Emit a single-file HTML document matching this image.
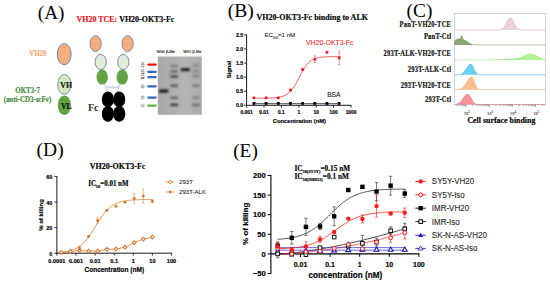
<!DOCTYPE html>
<html><head><meta charset="utf-8"><style>
html,body{margin:0;padding:0;background:#fff;}
body{width:550px;height:282px;overflow:hidden;}
svg{display:block;}
</style></head><body>
<svg width="550" height="282" viewBox="0 0 550 282">
<rect width="550" height="282" fill="#fff"/>
<text x="37.80" y="19.30" font-family='"Liberation Serif", serif' font-size="19.2" font-weight="normal" fill="#000" text-anchor="start" >(A)</text>
<text transform="translate(76.5,22.2) scale(1,1.06)" font-family='"Liberation Serif", serif' font-size="7.95" font-weight="bold" stroke="#000" stroke-width="0.16"><tspan fill="#e8141c" stroke="#e8141c" stroke-width="0.16">VH20 TCE: </tspan><tspan fill="#000" stroke="#000" stroke-width="0.16">VH20-OKT3-Fc</tspan></text>
<text transform="translate(29.20,55.70) scale(1,1.15)" font-family='"Liberation Serif", serif' font-size="6.9" font-weight="bold" fill="#f4a878" text-anchor="start"  stroke="#f4a878" stroke-width="0.16">VH20</text>
<text transform="translate(27.60,93.40) scale(1,1.13)" font-family='"Liberation Serif", serif' font-size="6.9" font-weight="bold" fill="#3f8a3a" text-anchor="middle"  stroke="#3f8a3a" stroke-width="0.16">OKT3-7</text>
<text transform="translate(27.60,101.90) scale(1,1.13)" font-family='"Liberation Serif", serif' font-size="6.9" font-weight="bold" fill="#3f8a3a" text-anchor="middle"  stroke="#3f8a3a" stroke-width="0.16">(anti-CD3-scFv)</text>
<ellipse cx="64.2" cy="54.2" rx="6.9" ry="10.6" fill="#f5ae7e" stroke="#6479ab" stroke-width="0.9"/>
<ellipse cx="64.4" cy="84.4" rx="6.6" ry="10" fill="#d2e8c4" stroke="#6479ab" stroke-width="0.8"/>
<ellipse cx="64.4" cy="105.2" rx="6.6" ry="9.8" fill="#62a443"/>
<text x="66.20" y="88.20" font-family='"Liberation Serif", serif' font-size="7.8" font-weight="bold" fill="#111" text-anchor="middle"  stroke="#111" stroke-width="0.16">VH</text>
<text x="66.40" y="109.30" font-family='"Liberation Serif", serif' font-size="7.8" font-weight="bold" fill="#111" text-anchor="middle"  stroke="#111" stroke-width="0.16">VL</text>
<ellipse cx="95.6" cy="43.6" rx="5.6" ry="7.9" fill="#f5ae7e" stroke="#6479ab" stroke-width="0.85"/>
<ellipse cx="127.6" cy="43.6" rx="5.6" ry="7.9" fill="#f5ae7e" stroke="#6479ab" stroke-width="0.85"/>
<line x1="95.6" y1="51.5" x2="100.7" y2="54.5" stroke="#a8b8d8" stroke-width="0.5"/>
<ellipse cx="100.7" cy="62.0" rx="5.6" ry="7.6" fill="#e0edd8" stroke="#6479ab" stroke-width="0.85"/>
<line x1="127.6" y1="51.5" x2="123.3" y2="54.5" stroke="#a8b8d8" stroke-width="0.5"/>
<ellipse cx="123.3" cy="62.0" rx="5.6" ry="7.6" fill="#e0edd8" stroke="#6479ab" stroke-width="0.85"/>
<ellipse cx="102.2" cy="77.1" rx="5.7" ry="7.5" fill="#62a443"/>
<ellipse cx="122.2" cy="77.1" rx="5.7" ry="7.5" fill="#62a443"/>
<path d="M104.2,83.4 L107.3,91.5 M120.2,83.4 L117.3,91.5" stroke="#8fa9d6" stroke-width="0.6" fill="none"/><rect x="105.6" y="86.3" width="13.2" height="2.2" fill="#cdd8ea"/>
<ellipse cx="107.9" cy="99.4" rx="6.1" ry="7.9" fill="#000"/>
<ellipse cx="107.9" cy="113.9" rx="6.1" ry="7.9" fill="#000"/>
<ellipse cx="119.2" cy="99.4" rx="6.1" ry="7.9" fill="#000"/>
<ellipse cx="119.2" cy="113.9" rx="6.1" ry="7.9" fill="#000"/>
<text x="87.90" y="111.40" font-family='"Liberation Serif", serif' font-size="10.2" font-weight="bold" fill="#333" text-anchor="start" stroke="#333" stroke-width="0">Fc</text>
<defs><linearGradient id="gel" x1="0" x2="1" y1="0" y2="0"><stop offset="0" stop-color="#a8a8a8"/><stop offset="0.6" stop-color="#b4b4b4"/><stop offset="1" stop-color="#acacac"/></linearGradient><filter id="bl" x="-50%" y="-100%" width="200%" height="300%"><feGaussianBlur stdDeviation="0.9"/></filter><filter id="bl2" x="-5%" y="-5%" width="110%" height="110%"><feGaussianBlur stdDeviation="0.3"/></filter></defs>
<rect x="157.8" y="56.5" width="44" height="58.3" fill="url(#gel)"/>
<text x="156.80" y="53.30" font-family='"Liberation Sans", sans-serif' font-size="4.0" font-weight="normal" fill="#1a1a1a" text-anchor="start" stroke-width="0.12" stroke="#1a1a1a">With β-Me</text>
<text x="183.20" y="53.30" font-family='"Liberation Sans", sans-serif' font-size="4.0" font-weight="normal" fill="#1a1a1a" text-anchor="start" stroke-width="0.12" stroke="#1a1a1a">W/O β-Me</text>
<rect x="147.2" y="63.50" width="9.6" height="2.2" rx="1.1" fill="#f01010"/>
<text transform="translate(143.6,64.60) rotate(-90) scale(0.85,1)" font-family='"Liberation Sans", sans-serif' font-size="4" fill="#666" stroke="#666" stroke-width="0.1" text-anchor="middle">240</text>
<line x1="144.4" y1="64.60" x2="145.6" y2="64.60" stroke="#999" stroke-width="0.4"/>
<rect x="147.2" y="70.70" width="9.6" height="2.2" rx="1.1" fill="#3565c8"/>
<text transform="translate(143.6,71.80) rotate(-90) scale(0.85,1)" font-family='"Liberation Sans", sans-serif' font-size="4" fill="#666" stroke="#666" stroke-width="0.1" text-anchor="middle">140</text>
<line x1="144.4" y1="71.80" x2="145.6" y2="71.80" stroke="#999" stroke-width="0.4"/>
<rect x="147.2" y="76.00" width="9.6" height="2.2" rx="1.1" fill="#3565c8"/>
<text transform="translate(143.6,77.10) rotate(-90) scale(0.85,1)" font-family='"Liberation Sans", sans-serif' font-size="4" fill="#666" stroke="#666" stroke-width="0.1" text-anchor="middle">115</text>
<line x1="144.4" y1="77.10" x2="145.6" y2="77.10" stroke="#999" stroke-width="0.4"/>
<rect x="147.2" y="85.20" width="9.6" height="2.2" rx="1.1" fill="#3565c8"/>
<text transform="translate(143.6,86.30) rotate(-90) scale(0.85,1)" font-family='"Liberation Sans", sans-serif' font-size="4" fill="#666" stroke="#666" stroke-width="0.1" text-anchor="middle">80</text>
<line x1="144.4" y1="86.30" x2="145.6" y2="86.30" stroke="#999" stroke-width="0.4"/>
<rect x="147.2" y="96.50" width="9.6" height="2.2" rx="1.1" fill="#3565c8"/>
<text transform="translate(143.6,97.60) rotate(-90) scale(0.85,1)" font-family='"Liberation Sans", sans-serif' font-size="4" fill="#666" stroke="#666" stroke-width="0.1" text-anchor="middle">58</text>
<line x1="144.4" y1="97.60" x2="145.6" y2="97.60" stroke="#999" stroke-width="0.4"/>
<rect x="147.2" y="104.50" width="9.6" height="2.2" rx="1.1" fill="#60b040"/>
<text transform="translate(143.6,105.60) rotate(-90) scale(0.85,1)" font-family='"Liberation Sans", sans-serif' font-size="4" fill="#666" stroke="#666" stroke-width="0.1" text-anchor="middle">50</text>
<line x1="144.4" y1="105.60" x2="145.6" y2="105.60" stroke="#999" stroke-width="0.4"/>
<g filter="url(#bl)">
<rect x="170.4" y="64.80" width="7.4" height="2.4" fill="#303030" opacity="0.4"/>
<rect x="170.4" y="70.40" width="7.4" height="2.4" fill="#303030" opacity="0.6"/>
<rect x="170.4" y="75.30" width="7.4" height="2.4" fill="#303030" opacity="0.9"/>
<rect x="170.4" y="84.50" width="7.4" height="2.4" fill="#303030" opacity="0.7"/>
<rect x="170.4" y="96.60" width="7.4" height="2.4" fill="#303030" opacity="0.6"/>
<rect x="170.4" y="103.70" width="7.4" height="2.4" fill="#303030" opacity="1.0"/>
<rect x="192.2" y="64.30" width="7.4" height="2.4" fill="#303030" opacity="0.3"/>
<rect x="192.2" y="69.80" width="7.4" height="2.4" fill="#303030" opacity="0.32"/>
<rect x="192.2" y="74.80" width="7.4" height="2.4" fill="#303030" opacity="0.35"/>
<rect x="192.2" y="84.50" width="7.4" height="2.4" fill="#303030" opacity="0.4"/>
<rect x="192.2" y="96.60" width="7.4" height="2.4" fill="#303030" opacity="0.32"/>
<rect x="192.2" y="103.70" width="7.4" height="2.4" fill="#303030" opacity="0.55"/>
<rect x="159.2" y="89.5" width="9" height="3.1" fill="#141414" opacity="1"/>
<rect x="180.8" y="68.1" width="8.9" height="3.1" fill="#141414" opacity="0.95"/>
</g>
<text x="227.80" y="16.70" font-family='"Liberation Serif", serif' font-size="19.5" font-weight="normal" fill="#000" text-anchor="start" >(B)</text>
<text x="256.60" y="19.80" font-family='"Liberation Serif", serif' font-size="8" font-weight="bold" fill="#000" text-anchor="start"  stroke="#000" stroke-width="0.16">VH20-OKT3-Fc binding to ALK</text>
<text x="264.4" y="36.8" font-family='"Liberation Sans", sans-serif' font-size="6.2" fill="#222" stroke="#222" stroke-width="0.08">EC<tspan font-size="4.4" dy="1.8">50</tspan><tspan dy="-1.8">=1 nM</tspan></text>
<line x1="246.6" y1="34.5" x2="246.6" y2="105.8" stroke="#000" stroke-width="0.9"/>
<line x1="246.2" y1="105.3" x2="351.4" y2="105.3" stroke="#000" stroke-width="0.9"/>
<line x1="244.0" y1="105.30" x2="246.6" y2="105.30" stroke="#000" stroke-width="0.8"/>
<text transform="translate(243.30,107.05) scale(1,0.88)" font-family='"Liberation Sans", sans-serif' font-size="5.3" font-weight="bold" fill="#000" text-anchor="end"  stroke="#000" stroke-width="0.16">0.0</text>
<line x1="244.0" y1="91.20" x2="246.6" y2="91.20" stroke="#000" stroke-width="0.8"/>
<text transform="translate(243.30,92.95) scale(1,0.88)" font-family='"Liberation Sans", sans-serif' font-size="5.3" font-weight="bold" fill="#000" text-anchor="end"  stroke="#000" stroke-width="0.16">0.5</text>
<line x1="244.0" y1="77.10" x2="246.6" y2="77.10" stroke="#000" stroke-width="0.8"/>
<text transform="translate(243.30,78.85) scale(1,0.88)" font-family='"Liberation Sans", sans-serif' font-size="5.3" font-weight="bold" fill="#000" text-anchor="end"  stroke="#000" stroke-width="0.16">1.0</text>
<line x1="244.0" y1="63.00" x2="246.6" y2="63.00" stroke="#000" stroke-width="0.8"/>
<text transform="translate(243.30,64.75) scale(1,0.88)" font-family='"Liberation Sans", sans-serif' font-size="5.3" font-weight="bold" fill="#000" text-anchor="end"  stroke="#000" stroke-width="0.16">1.5</text>
<line x1="244.0" y1="48.90" x2="246.6" y2="48.90" stroke="#000" stroke-width="0.8"/>
<text transform="translate(243.30,50.65) scale(1,0.88)" font-family='"Liberation Sans", sans-serif' font-size="5.3" font-weight="bold" fill="#000" text-anchor="end"  stroke="#000" stroke-width="0.16">2.0</text>
<line x1="244.0" y1="34.80" x2="246.6" y2="34.80" stroke="#000" stroke-width="0.8"/>
<text transform="translate(243.30,36.55) scale(1,0.88)" font-family='"Liberation Sans", sans-serif' font-size="5.3" font-weight="bold" fill="#000" text-anchor="end"  stroke="#000" stroke-width="0.16">2.5</text>
<line x1="246.60" y1="105.3" x2="246.60" y2="107.7" stroke="#000" stroke-width="0.8"/>
<text x="246.60" y="113.60" font-family='"Liberation Sans", sans-serif' font-size="4.8" font-weight="bold" fill="#000" text-anchor="middle"  stroke="#000" stroke-width="0.16">0.001</text>
<line x1="264.00" y1="105.3" x2="264.00" y2="107.7" stroke="#000" stroke-width="0.8"/>
<text x="264.00" y="113.60" font-family='"Liberation Sans", sans-serif' font-size="4.8" font-weight="bold" fill="#000" text-anchor="middle"  stroke="#000" stroke-width="0.16">0.01</text>
<line x1="281.40" y1="105.3" x2="281.40" y2="107.7" stroke="#000" stroke-width="0.8"/>
<text x="281.40" y="113.60" font-family='"Liberation Sans", sans-serif' font-size="4.8" font-weight="bold" fill="#000" text-anchor="middle"  stroke="#000" stroke-width="0.16">0.1</text>
<line x1="298.80" y1="105.3" x2="298.80" y2="107.7" stroke="#000" stroke-width="0.8"/>
<text x="298.80" y="113.60" font-family='"Liberation Sans", sans-serif' font-size="4.8" font-weight="bold" fill="#000" text-anchor="middle"  stroke="#000" stroke-width="0.16">1</text>
<line x1="316.20" y1="105.3" x2="316.20" y2="107.7" stroke="#000" stroke-width="0.8"/>
<text x="316.20" y="113.60" font-family='"Liberation Sans", sans-serif' font-size="4.8" font-weight="bold" fill="#000" text-anchor="middle"  stroke="#000" stroke-width="0.16">10</text>
<line x1="333.60" y1="105.3" x2="333.60" y2="107.7" stroke="#000" stroke-width="0.8"/>
<text x="333.60" y="113.60" font-family='"Liberation Sans", sans-serif' font-size="4.8" font-weight="bold" fill="#000" text-anchor="middle"  stroke="#000" stroke-width="0.16">100</text>
<line x1="351.00" y1="105.3" x2="351.00" y2="107.7" stroke="#000" stroke-width="0.8"/>
<text x="351.00" y="113.60" font-family='"Liberation Sans", sans-serif' font-size="4.8" font-weight="bold" fill="#000" text-anchor="middle"  stroke="#000" stroke-width="0.16">1000</text>
<text x="299.40" y="122.60" font-family='"Liberation Sans", sans-serif' font-size="5.8" font-weight="bold" fill="#000" text-anchor="middle"  stroke="#000" stroke-width="0.16">Concentration (nM)</text>
<text transform="translate(231.4,69.6) rotate(-90)" font-family='"Liberation Sans", sans-serif' font-size="5.8" font-weight="bold" text-anchor="middle" stroke="#000" stroke-width="0.16">Signal</text>
<polyline points="252.69,98.24 253.42,98.24 254.15,98.24 254.89,98.24 255.62,98.24 256.35,98.24 257.08,98.23 257.82,98.23 258.55,98.23 259.28,98.22 260.01,98.22 260.74,98.22 261.48,98.21 262.21,98.21 262.94,98.20 263.67,98.19 264.41,98.18 265.14,98.17 265.87,98.16 266.60,98.15 267.33,98.14 268.07,98.12 268.80,98.10 269.53,98.08 270.26,98.05 271.00,98.03 271.73,97.99 272.46,97.96 273.19,97.91 273.93,97.87 274.66,97.81 275.39,97.75 276.12,97.67 276.85,97.59 277.59,97.50 278.32,97.39 279.05,97.27 279.78,97.13 280.52,96.97 281.25,96.79 281.98,96.59 282.71,96.36 283.44,96.10 284.18,95.81 284.91,95.47 285.64,95.10 286.37,94.68 287.11,94.22 287.84,93.69 288.57,93.11 289.30,92.47 290.03,91.76 290.77,90.98 291.50,90.13 292.23,89.21 292.96,88.21 293.70,87.14 294.43,86.00 295.16,84.79 295.89,83.53 296.62,82.21 297.36,80.85 298.09,79.46 298.82,78.05 299.55,76.64 300.29,75.23 301.02,73.84 301.75,72.48 302.48,71.17 303.22,69.91 303.95,68.70 304.68,67.57 305.41,66.50 306.14,65.51 306.88,64.59 307.61,63.74 308.34,62.96 309.07,62.26 309.81,61.62 310.54,61.04 311.27,60.52 312.00,60.06 312.73,59.64 313.47,59.27 314.20,58.94 314.93,58.65 315.66,58.39 316.40,58.16 317.13,57.96 317.86,57.78 318.59,57.63 319.32,57.49 320.06,57.37 320.79,57.26 321.52,57.17 322.25,57.09 322.99,57.01 323.72,56.95 324.45,56.90 325.18,56.85 325.91,56.81 326.65,56.77 327.38,56.74 328.11,56.71 328.84,56.68 329.58,56.66 330.31,56.64 331.04,56.63 331.77,56.61 332.51,56.60 333.24,56.59 333.97,56.58 334.70,56.57 335.43,56.56 336.17,56.56 336.90,56.55 337.63,56.55 338.36,56.54 339.10,56.54 339.83,56.54 340.56,56.53" fill="none" stroke="#ee2a2a" stroke-width="0.8"/>
<circle cx="253.91" cy="97.69" r="1.5" fill="#ee1c24"/>
<circle cx="266.09" cy="97.69" r="1.5" fill="#ee1c24"/>
<circle cx="278.27" cy="97.69" r="1.5" fill="#ee1c24"/>
<path d="M290.448,90.91799999999999 V89.226 M289.14799999999997,90.91799999999999 h2.6 M289.14799999999997,89.226 h2.6" stroke="#ee2a2a" stroke-width="0.5" fill="none"/>
<circle cx="290.45" cy="90.07" r="1.5" fill="#ee1c24"/>
<path d="M302.628,70.332 V68.63999999999999 M301.328,70.332 h2.6 M301.328,68.63999999999999 h2.6" stroke="#ee2a2a" stroke-width="0.5" fill="none"/>
<circle cx="302.63" cy="69.49" r="1.5" fill="#ee1c24"/>
<path d="M314.808,62.718 V55.949999999999996 M313.508,62.718 h2.6 M313.508,55.949999999999996 h2.6" stroke="#ee2a2a" stroke-width="0.5" fill="none"/>
<circle cx="314.81" cy="59.33" r="1.5" fill="#ee1c24"/>
<circle cx="326.99" cy="52.28" r="1.5" fill="#ee1c24"/>
<path d="M339.168,64.69200000000001 V51.156 M337.868,64.69200000000001 h2.6 M337.868,51.156 h2.6" stroke="#ee2a2a" stroke-width="0.5" fill="none"/>
<circle cx="339.17" cy="57.92" r="1.5" fill="#ee1c24"/>
<line x1="252.908" y1="103.7" x2="340.168" y2="103.7" stroke="#000" stroke-width="0.7"/>
<rect x="252.51" y="102.00" width="2.8" height="2.8" fill="#000"/>
<rect x="264.69" y="102.00" width="2.8" height="2.8" fill="#000"/>
<rect x="276.87" y="102.00" width="2.8" height="2.8" fill="#000"/>
<rect x="289.05" y="102.00" width="2.8" height="2.8" fill="#000"/>
<rect x="301.23" y="102.00" width="2.8" height="2.8" fill="#000"/>
<rect x="313.41" y="102.00" width="2.8" height="2.8" fill="#000"/>
<rect x="325.59" y="102.00" width="2.8" height="2.8" fill="#000"/>
<rect x="337.77" y="102.00" width="2.8" height="2.8" fill="#000"/>
<text x="306.00" y="45.20" font-family='"Liberation Sans", sans-serif' font-size="6.9" font-weight="normal" fill="#ee1c24" text-anchor="start"  stroke="#ee1c24" stroke-width="0.08">VH20-OKT3-Fc</text>
<text x="327.20" y="97.00" font-family='"Liberation Sans", sans-serif' font-size="6.6" font-weight="normal" fill="#111" text-anchor="start"  stroke="#111" stroke-width="0.08">BSA</text>
<text x="406.60" y="16.90" font-family='"Liberation Serif", serif' font-size="19.3" font-weight="normal" fill="#000" text-anchor="start" >(C)</text>
<text transform="translate(451.20,26.90) scale(1,1.15)" font-family='"Liberation Serif", serif' font-size="6.5" font-weight="bold" fill="#111" text-anchor="end" letter-spacing="0.24" stroke="#111" stroke-width="0.16">PanT-VH20-TCE</text>
<text transform="translate(451.20,38.80) scale(1,1.15)" font-family='"Liberation Serif", serif' font-size="6.5" font-weight="bold" fill="#111" text-anchor="end" letter-spacing="0.24" stroke="#111" stroke-width="0.16">PanT-Ctl</text>
<text transform="translate(451.20,55.70) scale(1,1.15)" font-family='"Liberation Serif", serif' font-size="6.5" font-weight="bold" fill="#111" text-anchor="end" letter-spacing="0.24" stroke="#111" stroke-width="0.16">293T-ALK-VH20-TCE</text>
<text transform="translate(451.20,71.50) scale(1,1.15)" font-family='"Liberation Serif", serif' font-size="6.5" font-weight="bold" fill="#111" text-anchor="end" letter-spacing="0.24" stroke="#111" stroke-width="0.16">293T-ALK-Ctl</text>
<text transform="translate(451.20,87.60) scale(1,1.15)" font-family='"Liberation Serif", serif' font-size="6.5" font-weight="bold" fill="#111" text-anchor="end" letter-spacing="0.24" stroke="#111" stroke-width="0.16">293T-VH20-TCE</text>
<text transform="translate(451.20,101.80) scale(1,1.15)" font-family='"Liberation Serif", serif' font-size="6.5" font-weight="bold" fill="#111" text-anchor="end" letter-spacing="0.24" stroke="#111" stroke-width="0.16">293T-Ctl</text>
<rect x="454.3" y="13.5" width="91.40000000000003" height="91.1" fill="none" stroke="#b8b8b8" stroke-width="0.6"/>
<path d="M454.30,30.10 L454.81,30.10 L455.32,30.10 L455.82,30.10 L456.33,30.10 L456.84,30.10 L457.35,30.10 L457.85,30.10 L458.36,30.10 L458.87,30.10 L459.38,30.10 L459.89,30.10 L460.39,30.10 L460.90,30.10 L461.41,30.10 L461.92,30.10 L462.42,30.10 L462.93,30.10 L463.44,30.10 L463.95,30.10 L464.46,30.10 L464.96,30.10 L465.47,30.10 L465.98,30.10 L466.49,30.10 L466.99,30.10 L467.50,30.10 L468.01,30.10 L468.52,30.10 L469.03,30.10 L469.53,30.10 L470.04,30.10 L470.55,30.10 L471.06,30.10 L471.56,30.10 L472.07,30.10 L472.58,30.10 L473.09,30.10 L473.60,30.10 L474.10,30.10 L474.61,30.10 L475.12,30.10 L475.63,30.10 L476.13,30.10 L476.64,30.10 L477.15,30.10 L477.66,30.10 L478.17,30.10 L478.67,30.10 L479.18,30.10 L479.69,30.10 L480.20,30.10 L480.70,30.10 L481.21,30.10 L481.72,30.10 L482.23,30.10 L482.74,30.10 L483.24,30.10 L483.75,30.10 L484.26,30.10 L484.77,30.10 L485.27,30.10 L485.78,30.10 L486.29,30.10 L486.80,30.10 L487.31,30.10 L487.81,30.10 L488.32,30.10 L488.83,30.10 L489.34,30.10 L489.84,30.10 L490.35,30.10 L490.86,30.10 L491.37,30.10 L491.88,30.10 L492.38,30.10 L492.89,30.10 L493.40,30.10 L493.91,30.10 L494.41,30.10 L494.92,30.10 L495.43,30.10 L495.94,30.10 L496.45,30.09 L496.95,30.09 L497.46,30.08 L497.97,30.06 L498.48,30.04 L498.98,30.01 L499.49,29.96 L500.00,29.88 L500.51,29.78 L501.02,29.64 L501.52,29.44 L502.03,29.19 L502.54,28.85 L503.05,28.43 L503.55,27.92 L504.06,27.29 L504.57,26.57 L505.08,25.74 L505.59,24.82 L506.09,23.84 L506.60,22.82 L507.11,21.80 L507.62,20.82 L508.12,19.94 L508.63,19.19 L509.14,18.61 L509.65,18.24 L510.16,18.10 L510.66,18.20 L511.17,18.53 L511.68,19.07 L512.19,19.79 L512.69,20.66 L513.20,21.62 L513.71,22.64 L514.22,23.66 L514.73,24.65 L515.23,25.58 L515.74,26.43 L516.25,27.18 L516.76,27.82 L517.26,28.35 L517.77,28.79 L518.28,29.13 L518.79,29.40 L519.30,29.61 L519.80,29.76 L520.31,29.87 L520.82,29.95 L521.33,30.00 L521.83,30.04 L522.34,30.06 L522.85,30.07 L523.36,30.08 L523.87,30.09 L524.37,30.09 L524.88,30.10 L525.39,30.10 L525.90,30.10 L526.40,30.10 L526.91,30.10 L527.42,30.10 L527.93,30.10 L528.44,30.10 L528.94,30.10 L529.45,30.10 L529.96,30.10 L530.47,30.10 L530.97,30.10 L531.48,30.10 L531.99,30.10 L532.50,30.10 L533.01,30.10 L533.51,30.10 L534.02,30.10 L534.53,30.10 L535.04,30.10 L535.54,30.10 L536.05,30.10 L536.56,30.10 L537.07,30.10 L537.58,30.10 L538.08,30.10 L538.59,30.10 L539.10,30.10 L539.61,30.10 L540.11,30.10 L540.62,30.10 L541.13,30.10 L541.64,30.10 L542.15,30.10 L542.65,30.10 L543.16,30.10 L543.67,30.10 L544.18,30.10 L544.68,30.10 L545.19,30.10 L545.70,30.10 L545.7,30.1 L454.3,30.1 Z" fill="#e3b6ba" fill-opacity="0.6" stroke="none"/>
<path d="M454.30,30.10 L454.81,30.10 L455.32,30.10 L455.82,30.10 L456.33,30.10 L456.84,30.10 L457.35,30.10 L457.85,30.10 L458.36,30.10 L458.87,30.10 L459.38,30.10 L459.89,30.10 L460.39,30.10 L460.90,30.10 L461.41,30.10 L461.92,30.10 L462.42,30.10 L462.93,30.10 L463.44,30.10 L463.95,30.10 L464.46,30.10 L464.96,30.10 L465.47,30.10 L465.98,30.10 L466.49,30.10 L466.99,30.10 L467.50,30.10 L468.01,30.10 L468.52,30.10 L469.03,30.10 L469.53,30.10 L470.04,30.10 L470.55,30.10 L471.06,30.10 L471.56,30.10 L472.07,30.10 L472.58,30.10 L473.09,30.10 L473.60,30.10 L474.10,30.10 L474.61,30.10 L475.12,30.10 L475.63,30.10 L476.13,30.10 L476.64,30.10 L477.15,30.10 L477.66,30.10 L478.17,30.10 L478.67,30.10 L479.18,30.10 L479.69,30.10 L480.20,30.10 L480.70,30.10 L481.21,30.10 L481.72,30.10 L482.23,30.10 L482.74,30.10 L483.24,30.10 L483.75,30.10 L484.26,30.10 L484.77,30.10 L485.27,30.10 L485.78,30.10 L486.29,30.10 L486.80,30.10 L487.31,30.10 L487.81,30.10 L488.32,30.10 L488.83,30.10 L489.34,30.10 L489.84,30.10 L490.35,30.10 L490.86,30.10 L491.37,30.10 L491.88,30.10 L492.38,30.10 L492.89,30.10 L493.40,30.10 L493.91,30.10 L494.41,30.10 L494.92,30.10 L495.43,30.10 L495.94,30.10 L496.45,30.09 L496.95,30.09 L497.46,30.08 L497.97,30.06 L498.48,30.04 L498.98,30.01 L499.49,29.96 L500.00,29.88 L500.51,29.78 L501.02,29.64 L501.52,29.44 L502.03,29.19 L502.54,28.85 L503.05,28.43 L503.55,27.92 L504.06,27.29 L504.57,26.57 L505.08,25.74 L505.59,24.82 L506.09,23.84 L506.60,22.82 L507.11,21.80 L507.62,20.82 L508.12,19.94 L508.63,19.19 L509.14,18.61 L509.65,18.24 L510.16,18.10 L510.66,18.20 L511.17,18.53 L511.68,19.07 L512.19,19.79 L512.69,20.66 L513.20,21.62 L513.71,22.64 L514.22,23.66 L514.73,24.65 L515.23,25.58 L515.74,26.43 L516.25,27.18 L516.76,27.82 L517.26,28.35 L517.77,28.79 L518.28,29.13 L518.79,29.40 L519.30,29.61 L519.80,29.76 L520.31,29.87 L520.82,29.95 L521.33,30.00 L521.83,30.04 L522.34,30.06 L522.85,30.07 L523.36,30.08 L523.87,30.09 L524.37,30.09 L524.88,30.10 L525.39,30.10 L525.90,30.10 L526.40,30.10 L526.91,30.10 L527.42,30.10 L527.93,30.10 L528.44,30.10 L528.94,30.10 L529.45,30.10 L529.96,30.10 L530.47,30.10 L530.97,30.10 L531.48,30.10 L531.99,30.10 L532.50,30.10 L533.01,30.10 L533.51,30.10 L534.02,30.10 L534.53,30.10 L535.04,30.10 L535.54,30.10 L536.05,30.10 L536.56,30.10 L537.07,30.10 L537.58,30.10 L538.08,30.10 L538.59,30.10 L539.10,30.10 L539.61,30.10 L540.11,30.10 L540.62,30.10 L541.13,30.10 L541.64,30.10 L542.15,30.10 L542.65,30.10 L543.16,30.10 L543.67,30.10 L544.18,30.10 L544.68,30.10 L545.19,30.10 L545.70,30.10" fill="none" stroke="#d8a0a8" stroke-width="0.6"/>
<path d="M454.30,41.35 L454.81,40.89 L455.32,40.46 L455.82,40.07 L456.33,39.73 L456.84,39.45 L457.35,39.24 L457.85,39.09 L458.36,39.00 L458.87,38.96 L459.38,38.97 L459.89,38.97 L460.39,38.72 L460.90,37.59 L461.41,35.87 L461.92,35.78 L462.42,37.62 L462.93,39.11 L463.44,39.66 L463.95,39.87 L464.46,40.06 L464.96,40.28 L465.47,40.53 L465.98,40.81 L466.49,41.11 L466.99,41.43 L467.50,41.77 L468.01,42.12 L468.52,42.46 L469.03,42.79 L469.53,43.10 L470.04,43.40 L470.55,43.66 L471.06,43.90 L471.56,44.11 L472.07,44.29 L472.58,44.44 L473.09,44.57 L473.60,44.67 L474.10,44.75 L474.61,44.81 L475.12,44.86 L475.63,44.90 L476.13,44.93 L476.64,44.95 L477.15,44.97 L477.66,44.98 L478.17,44.98 L478.67,44.99 L479.18,44.99 L479.69,45.00 L480.20,45.00 L480.70,45.00 L481.21,45.00 L481.72,45.00 L482.23,45.00 L482.74,45.00 L483.24,45.00 L483.75,45.00 L484.26,45.00 L484.77,45.00 L485.27,45.00 L485.78,45.00 L486.29,45.00 L486.80,45.00 L487.31,45.00 L487.81,45.00 L488.32,45.00 L488.83,45.00 L489.34,45.00 L489.84,45.00 L490.35,45.00 L490.86,45.00 L491.37,45.00 L491.88,45.00 L492.38,45.00 L492.89,45.00 L493.40,45.00 L493.91,45.00 L494.41,45.00 L494.92,45.00 L495.43,45.00 L495.94,45.00 L496.45,45.00 L496.95,45.00 L497.46,45.00 L497.97,45.00 L498.48,45.00 L498.98,45.00 L499.49,45.00 L500.00,45.00 L500.51,45.00 L501.02,45.00 L501.52,45.00 L502.03,45.00 L502.54,45.00 L503.05,45.00 L503.55,45.00 L504.06,45.00 L504.57,45.00 L505.08,45.00 L505.59,45.00 L506.09,45.00 L506.60,45.00 L507.11,45.00 L507.62,45.00 L508.12,45.00 L508.63,45.00 L509.14,45.00 L509.65,45.00 L510.16,45.00 L510.66,45.00 L511.17,45.00 L511.68,45.00 L512.19,45.00 L512.69,45.00 L513.20,45.00 L513.71,45.00 L514.22,45.00 L514.73,45.00 L515.23,45.00 L515.74,45.00 L516.25,45.00 L516.76,45.00 L517.26,45.00 L517.77,45.00 L518.28,45.00 L518.79,45.00 L519.30,45.00 L519.80,45.00 L520.31,45.00 L520.82,45.00 L521.33,45.00 L521.83,45.00 L522.34,45.00 L522.85,45.00 L523.36,45.00 L523.87,45.00 L524.37,45.00 L524.88,45.00 L525.39,45.00 L525.90,45.00 L526.40,45.00 L526.91,45.00 L527.42,45.00 L527.93,45.00 L528.44,45.00 L528.94,45.00 L529.45,45.00 L529.96,45.00 L530.47,45.00 L530.97,45.00 L531.48,45.00 L531.99,45.00 L532.50,45.00 L533.01,45.00 L533.51,45.00 L534.02,45.00 L534.53,45.00 L535.04,45.00 L535.54,45.00 L536.05,45.00 L536.56,45.00 L537.07,45.00 L537.58,45.00 L538.08,45.00 L538.59,45.00 L539.10,45.00 L539.61,45.00 L540.11,45.00 L540.62,45.00 L541.13,45.00 L541.64,45.00 L542.15,45.00 L542.65,45.00 L543.16,45.00 L543.67,45.00 L544.18,45.00 L544.68,45.00 L545.19,45.00 L545.70,45.00 L545.7,45.0 L454.3,45.0 Z" fill="#7d9b5f" fill-opacity="0.9" stroke="none"/>
<path d="M454.30,41.35 L454.81,40.89 L455.32,40.46 L455.82,40.07 L456.33,39.73 L456.84,39.45 L457.35,39.24 L457.85,39.09 L458.36,39.00 L458.87,38.96 L459.38,38.97 L459.89,38.97 L460.39,38.72 L460.90,37.59 L461.41,35.87 L461.92,35.78 L462.42,37.62 L462.93,39.11 L463.44,39.66 L463.95,39.87 L464.46,40.06 L464.96,40.28 L465.47,40.53 L465.98,40.81 L466.49,41.11 L466.99,41.43 L467.50,41.77 L468.01,42.12 L468.52,42.46 L469.03,42.79 L469.53,43.10 L470.04,43.40 L470.55,43.66 L471.06,43.90 L471.56,44.11 L472.07,44.29 L472.58,44.44 L473.09,44.57 L473.60,44.67 L474.10,44.75 L474.61,44.81 L475.12,44.86 L475.63,44.90 L476.13,44.93 L476.64,44.95 L477.15,44.97 L477.66,44.98 L478.17,44.98 L478.67,44.99 L479.18,44.99 L479.69,45.00 L480.20,45.00 L480.70,45.00 L481.21,45.00 L481.72,45.00 L482.23,45.00 L482.74,45.00 L483.24,45.00 L483.75,45.00 L484.26,45.00 L484.77,45.00 L485.27,45.00 L485.78,45.00 L486.29,45.00 L486.80,45.00 L487.31,45.00 L487.81,45.00 L488.32,45.00 L488.83,45.00 L489.34,45.00 L489.84,45.00 L490.35,45.00 L490.86,45.00 L491.37,45.00 L491.88,45.00 L492.38,45.00 L492.89,45.00 L493.40,45.00 L493.91,45.00 L494.41,45.00 L494.92,45.00 L495.43,45.00 L495.94,45.00 L496.45,45.00 L496.95,45.00 L497.46,45.00 L497.97,45.00 L498.48,45.00 L498.98,45.00 L499.49,45.00 L500.00,45.00 L500.51,45.00 L501.02,45.00 L501.52,45.00 L502.03,45.00 L502.54,45.00 L503.05,45.00 L503.55,45.00 L504.06,45.00 L504.57,45.00 L505.08,45.00 L505.59,45.00 L506.09,45.00 L506.60,45.00 L507.11,45.00 L507.62,45.00 L508.12,45.00 L508.63,45.00 L509.14,45.00 L509.65,45.00 L510.16,45.00 L510.66,45.00 L511.17,45.00 L511.68,45.00 L512.19,45.00 L512.69,45.00 L513.20,45.00 L513.71,45.00 L514.22,45.00 L514.73,45.00 L515.23,45.00 L515.74,45.00 L516.25,45.00 L516.76,45.00 L517.26,45.00 L517.77,45.00 L518.28,45.00 L518.79,45.00 L519.30,45.00 L519.80,45.00 L520.31,45.00 L520.82,45.00 L521.33,45.00 L521.83,45.00 L522.34,45.00 L522.85,45.00 L523.36,45.00 L523.87,45.00 L524.37,45.00 L524.88,45.00 L525.39,45.00 L525.90,45.00 L526.40,45.00 L526.91,45.00 L527.42,45.00 L527.93,45.00 L528.44,45.00 L528.94,45.00 L529.45,45.00 L529.96,45.00 L530.47,45.00 L530.97,45.00 L531.48,45.00 L531.99,45.00 L532.50,45.00 L533.01,45.00 L533.51,45.00 L534.02,45.00 L534.53,45.00 L535.04,45.00 L535.54,45.00 L536.05,45.00 L536.56,45.00 L537.07,45.00 L537.58,45.00 L538.08,45.00 L538.59,45.00 L539.10,45.00 L539.61,45.00 L540.11,45.00 L540.62,45.00 L541.13,45.00 L541.64,45.00 L542.15,45.00 L542.65,45.00 L543.16,45.00 L543.67,45.00 L544.18,45.00 L544.68,45.00 L545.19,45.00 L545.70,45.00" fill="none" stroke="#7a9863" stroke-width="0.6"/>
<path d="M454.30,59.90 L454.81,59.90 L455.32,59.90 L455.82,59.90 L456.33,59.90 L456.84,59.90 L457.35,59.90 L457.85,59.90 L458.36,59.90 L458.87,59.90 L459.38,59.90 L459.89,59.90 L460.39,59.90 L460.90,59.90 L461.41,59.90 L461.92,59.90 L462.42,59.90 L462.93,59.90 L463.44,59.90 L463.95,59.90 L464.46,59.90 L464.96,59.90 L465.47,59.90 L465.98,59.90 L466.49,59.90 L466.99,59.90 L467.50,59.90 L468.01,59.90 L468.52,59.90 L469.03,59.90 L469.53,59.90 L470.04,59.90 L470.55,59.90 L471.06,59.90 L471.56,59.90 L472.07,59.90 L472.58,59.90 L473.09,59.90 L473.60,59.90 L474.10,59.90 L474.61,59.90 L475.12,59.90 L475.63,59.90 L476.13,59.90 L476.64,59.90 L477.15,59.90 L477.66,59.90 L478.17,59.90 L478.67,59.90 L479.18,59.90 L479.69,59.90 L480.20,59.90 L480.70,59.90 L481.21,59.90 L481.72,59.90 L482.23,59.90 L482.74,59.89 L483.24,59.89 L483.75,59.89 L484.26,59.89 L484.77,59.89 L485.27,59.89 L485.78,59.89 L486.29,59.88 L486.80,59.88 L487.31,59.88 L487.81,59.88 L488.32,59.87 L488.83,59.87 L489.34,59.86 L489.84,59.86 L490.35,59.85 L490.86,59.85 L491.37,59.84 L491.88,59.83 L492.38,59.82 L492.89,59.81 L493.40,59.80 L493.91,59.79 L494.41,59.78 L494.92,59.77 L495.43,59.75 L495.94,59.74 L496.45,59.72 L496.95,59.70 L497.46,59.69 L497.97,59.67 L498.48,59.64 L498.98,59.62 L499.49,59.60 L500.00,59.58 L500.51,59.55 L501.02,59.52 L501.52,59.50 L502.03,59.47 L502.54,59.44 L503.05,59.41 L503.55,59.38 L504.06,59.35 L504.57,59.32 L505.08,59.29 L505.59,59.26 L506.09,59.22 L506.60,59.19 L507.11,59.16 L507.62,59.13 L508.12,59.10 L508.63,59.07 L509.14,59.04 L509.65,59.01 L510.16,58.98 L510.66,58.95 L511.17,58.92 L511.68,58.89 L512.19,58.86 L512.69,58.82 L513.20,58.79 L513.71,58.75 L514.22,58.71 L514.73,58.66 L515.23,58.61 L515.74,58.55 L516.25,58.49 L516.76,58.42 L517.26,58.34 L517.77,58.24 L518.28,58.14 L518.79,58.03 L519.30,57.90 L519.80,57.76 L520.31,57.61 L520.82,57.44 L521.33,57.26 L521.83,57.07 L522.34,56.87 L522.85,56.66 L523.36,56.44 L523.87,56.21 L524.37,55.98 L524.88,55.75 L525.39,55.53 L525.90,55.31 L526.40,55.09 L526.91,54.89 L527.42,54.71 L527.93,54.55 L528.44,54.41 L528.94,54.29 L529.45,54.20 L529.96,54.14 L530.47,54.12 L530.97,54.12 L531.48,54.16 L531.99,54.23 L532.50,54.33 L533.01,54.46 L533.51,54.62 L534.02,54.80 L534.53,55.01 L535.04,55.23 L535.54,55.47 L536.05,55.72 L536.56,55.99 L537.07,56.25 L537.58,56.52 L538.08,56.79 L538.59,57.06 L539.10,57.31 L539.61,57.56 L540.11,57.80 L540.62,58.02 L541.13,58.23 L541.64,58.43 L542.15,58.61 L542.65,58.78 L543.16,58.93 L543.67,59.06 L544.18,59.18 L544.68,59.29 L545.19,59.38 L545.70,59.46 L545.7,59.9 L454.3,59.9 Z" fill="#9cf07c" fill-opacity="0.8" stroke="none"/>
<path d="M454.30,59.90 L454.81,59.90 L455.32,59.90 L455.82,59.90 L456.33,59.90 L456.84,59.90 L457.35,59.90 L457.85,59.90 L458.36,59.90 L458.87,59.90 L459.38,59.90 L459.89,59.90 L460.39,59.90 L460.90,59.90 L461.41,59.90 L461.92,59.90 L462.42,59.90 L462.93,59.90 L463.44,59.90 L463.95,59.90 L464.46,59.90 L464.96,59.90 L465.47,59.90 L465.98,59.90 L466.49,59.90 L466.99,59.90 L467.50,59.90 L468.01,59.90 L468.52,59.90 L469.03,59.90 L469.53,59.90 L470.04,59.90 L470.55,59.90 L471.06,59.90 L471.56,59.90 L472.07,59.90 L472.58,59.90 L473.09,59.90 L473.60,59.90 L474.10,59.90 L474.61,59.90 L475.12,59.90 L475.63,59.90 L476.13,59.90 L476.64,59.90 L477.15,59.90 L477.66,59.90 L478.17,59.90 L478.67,59.90 L479.18,59.90 L479.69,59.90 L480.20,59.90 L480.70,59.90 L481.21,59.90 L481.72,59.90 L482.23,59.90 L482.74,59.89 L483.24,59.89 L483.75,59.89 L484.26,59.89 L484.77,59.89 L485.27,59.89 L485.78,59.89 L486.29,59.88 L486.80,59.88 L487.31,59.88 L487.81,59.88 L488.32,59.87 L488.83,59.87 L489.34,59.86 L489.84,59.86 L490.35,59.85 L490.86,59.85 L491.37,59.84 L491.88,59.83 L492.38,59.82 L492.89,59.81 L493.40,59.80 L493.91,59.79 L494.41,59.78 L494.92,59.77 L495.43,59.75 L495.94,59.74 L496.45,59.72 L496.95,59.70 L497.46,59.69 L497.97,59.67 L498.48,59.64 L498.98,59.62 L499.49,59.60 L500.00,59.58 L500.51,59.55 L501.02,59.52 L501.52,59.50 L502.03,59.47 L502.54,59.44 L503.05,59.41 L503.55,59.38 L504.06,59.35 L504.57,59.32 L505.08,59.29 L505.59,59.26 L506.09,59.22 L506.60,59.19 L507.11,59.16 L507.62,59.13 L508.12,59.10 L508.63,59.07 L509.14,59.04 L509.65,59.01 L510.16,58.98 L510.66,58.95 L511.17,58.92 L511.68,58.89 L512.19,58.86 L512.69,58.82 L513.20,58.79 L513.71,58.75 L514.22,58.71 L514.73,58.66 L515.23,58.61 L515.74,58.55 L516.25,58.49 L516.76,58.42 L517.26,58.34 L517.77,58.24 L518.28,58.14 L518.79,58.03 L519.30,57.90 L519.80,57.76 L520.31,57.61 L520.82,57.44 L521.33,57.26 L521.83,57.07 L522.34,56.87 L522.85,56.66 L523.36,56.44 L523.87,56.21 L524.37,55.98 L524.88,55.75 L525.39,55.53 L525.90,55.31 L526.40,55.09 L526.91,54.89 L527.42,54.71 L527.93,54.55 L528.44,54.41 L528.94,54.29 L529.45,54.20 L529.96,54.14 L530.47,54.12 L530.97,54.12 L531.48,54.16 L531.99,54.23 L532.50,54.33 L533.01,54.46 L533.51,54.62 L534.02,54.80 L534.53,55.01 L535.04,55.23 L535.54,55.47 L536.05,55.72 L536.56,55.99 L537.07,56.25 L537.58,56.52 L538.08,56.79 L538.59,57.06 L539.10,57.31 L539.61,57.56 L540.11,57.80 L540.62,58.02 L541.13,58.23 L541.64,58.43 L542.15,58.61 L542.65,58.78 L543.16,58.93 L543.67,59.06 L544.18,59.18 L544.68,59.29 L545.19,59.38 L545.70,59.46" fill="none" stroke="#8de86a" stroke-width="0.6"/>
<path d="M454.30,74.80 L454.81,74.79 L455.32,74.79 L455.82,74.78 L456.33,74.77 L456.84,74.76 L457.35,74.74 L457.85,74.71 L458.36,74.67 L458.87,74.61 L459.38,74.53 L459.89,74.43 L460.39,74.30 L460.90,74.13 L461.41,73.92 L461.92,73.66 L462.42,73.33 L462.93,72.95 L463.44,72.50 L463.95,71.97 L464.46,71.38 L464.96,70.73 L465.47,70.02 L465.98,69.26 L466.49,68.49 L466.99,67.70 L467.50,66.94 L468.01,66.22 L468.52,65.57 L469.03,65.01 L469.53,64.58 L470.04,64.27 L470.55,64.12 L471.06,64.14 L471.56,64.47 L472.07,65.08 L472.58,65.94 L473.09,66.96 L473.60,68.08 L474.10,69.21 L474.61,70.29 L475.12,71.27 L475.63,72.12 L476.13,72.83 L476.64,73.39 L477.15,73.83 L477.66,74.15 L478.17,74.37 L478.67,74.53 L479.18,74.64 L479.69,74.70 L480.20,74.74 L480.70,74.77 L481.21,74.78 L481.72,74.79 L482.23,74.80 L482.74,74.80 L483.24,74.80 L483.75,74.80 L484.26,74.80 L484.77,74.80 L485.27,74.80 L485.78,74.80 L486.29,74.80 L486.80,74.80 L487.31,74.80 L487.81,74.80 L488.32,74.80 L488.83,74.80 L489.34,74.80 L489.84,74.80 L490.35,74.80 L490.86,74.80 L491.37,74.80 L491.88,74.80 L492.38,74.80 L492.89,74.80 L493.40,74.80 L493.91,74.80 L494.41,74.80 L494.92,74.80 L495.43,74.80 L495.94,74.80 L496.45,74.80 L496.95,74.80 L497.46,74.80 L497.97,74.80 L498.48,74.80 L498.98,74.80 L499.49,74.80 L500.00,74.80 L500.51,74.80 L501.02,74.80 L501.52,74.80 L502.03,74.80 L502.54,74.80 L503.05,74.80 L503.55,74.80 L504.06,74.80 L504.57,74.80 L505.08,74.80 L505.59,74.80 L506.09,74.80 L506.60,74.80 L507.11,74.80 L507.62,74.80 L508.12,74.80 L508.63,74.80 L509.14,74.80 L509.65,74.80 L510.16,74.80 L510.66,74.80 L511.17,74.80 L511.68,74.80 L512.19,74.80 L512.69,74.80 L513.20,74.80 L513.71,74.80 L514.22,74.80 L514.73,74.80 L515.23,74.80 L515.74,74.80 L516.25,74.80 L516.76,74.80 L517.26,74.80 L517.77,74.80 L518.28,74.80 L518.79,74.80 L519.30,74.80 L519.80,74.80 L520.31,74.80 L520.82,74.80 L521.33,74.80 L521.83,74.80 L522.34,74.80 L522.85,74.80 L523.36,74.80 L523.87,74.80 L524.37,74.80 L524.88,74.80 L525.39,74.80 L525.90,74.80 L526.40,74.80 L526.91,74.80 L527.42,74.80 L527.93,74.80 L528.44,74.80 L528.94,74.80 L529.45,74.80 L529.96,74.80 L530.47,74.80 L530.97,74.80 L531.48,74.80 L531.99,74.80 L532.50,74.80 L533.01,74.80 L533.51,74.80 L534.02,74.80 L534.53,74.80 L535.04,74.80 L535.54,74.80 L536.05,74.80 L536.56,74.80 L537.07,74.80 L537.58,74.80 L538.08,74.80 L538.59,74.80 L539.10,74.80 L539.61,74.80 L540.11,74.80 L540.62,74.80 L541.13,74.80 L541.64,74.80 L542.15,74.80 L542.65,74.80 L543.16,74.80 L543.67,74.80 L544.18,74.80 L544.68,74.80 L545.19,74.80 L545.70,74.80 L545.7,74.8 L454.3,74.8 Z" fill="#5ccbf2" fill-opacity="0.9" stroke="none"/>
<path d="M454.30,74.80 L454.81,74.79 L455.32,74.79 L455.82,74.78 L456.33,74.77 L456.84,74.76 L457.35,74.74 L457.85,74.71 L458.36,74.67 L458.87,74.61 L459.38,74.53 L459.89,74.43 L460.39,74.30 L460.90,74.13 L461.41,73.92 L461.92,73.66 L462.42,73.33 L462.93,72.95 L463.44,72.50 L463.95,71.97 L464.46,71.38 L464.96,70.73 L465.47,70.02 L465.98,69.26 L466.49,68.49 L466.99,67.70 L467.50,66.94 L468.01,66.22 L468.52,65.57 L469.03,65.01 L469.53,64.58 L470.04,64.27 L470.55,64.12 L471.06,64.14 L471.56,64.47 L472.07,65.08 L472.58,65.94 L473.09,66.96 L473.60,68.08 L474.10,69.21 L474.61,70.29 L475.12,71.27 L475.63,72.12 L476.13,72.83 L476.64,73.39 L477.15,73.83 L477.66,74.15 L478.17,74.37 L478.67,74.53 L479.18,74.64 L479.69,74.70 L480.20,74.74 L480.70,74.77 L481.21,74.78 L481.72,74.79 L482.23,74.80 L482.74,74.80 L483.24,74.80 L483.75,74.80 L484.26,74.80 L484.77,74.80 L485.27,74.80 L485.78,74.80 L486.29,74.80 L486.80,74.80 L487.31,74.80 L487.81,74.80 L488.32,74.80 L488.83,74.80 L489.34,74.80 L489.84,74.80 L490.35,74.80 L490.86,74.80 L491.37,74.80 L491.88,74.80 L492.38,74.80 L492.89,74.80 L493.40,74.80 L493.91,74.80 L494.41,74.80 L494.92,74.80 L495.43,74.80 L495.94,74.80 L496.45,74.80 L496.95,74.80 L497.46,74.80 L497.97,74.80 L498.48,74.80 L498.98,74.80 L499.49,74.80 L500.00,74.80 L500.51,74.80 L501.02,74.80 L501.52,74.80 L502.03,74.80 L502.54,74.80 L503.05,74.80 L503.55,74.80 L504.06,74.80 L504.57,74.80 L505.08,74.80 L505.59,74.80 L506.09,74.80 L506.60,74.80 L507.11,74.80 L507.62,74.80 L508.12,74.80 L508.63,74.80 L509.14,74.80 L509.65,74.80 L510.16,74.80 L510.66,74.80 L511.17,74.80 L511.68,74.80 L512.19,74.80 L512.69,74.80 L513.20,74.80 L513.71,74.80 L514.22,74.80 L514.73,74.80 L515.23,74.80 L515.74,74.80 L516.25,74.80 L516.76,74.80 L517.26,74.80 L517.77,74.80 L518.28,74.80 L518.79,74.80 L519.30,74.80 L519.80,74.80 L520.31,74.80 L520.82,74.80 L521.33,74.80 L521.83,74.80 L522.34,74.80 L522.85,74.80 L523.36,74.80 L523.87,74.80 L524.37,74.80 L524.88,74.80 L525.39,74.80 L525.90,74.80 L526.40,74.80 L526.91,74.80 L527.42,74.80 L527.93,74.80 L528.44,74.80 L528.94,74.80 L529.45,74.80 L529.96,74.80 L530.47,74.80 L530.97,74.80 L531.48,74.80 L531.99,74.80 L532.50,74.80 L533.01,74.80 L533.51,74.80 L534.02,74.80 L534.53,74.80 L535.04,74.80 L535.54,74.80 L536.05,74.80 L536.56,74.80 L537.07,74.80 L537.58,74.80 L538.08,74.80 L538.59,74.80 L539.10,74.80 L539.61,74.80 L540.11,74.80 L540.62,74.80 L541.13,74.80 L541.64,74.80 L542.15,74.80 L542.65,74.80 L543.16,74.80 L543.67,74.80 L544.18,74.80 L544.68,74.80 L545.19,74.80 L545.70,74.80" fill="none" stroke="#38b4e4" stroke-width="0.6"/>
<path d="M454.30,89.69 L454.81,89.68 L455.32,89.68 L455.82,89.66 L456.33,89.65 L456.84,89.63 L457.35,89.60 L457.85,89.55 L458.36,89.50 L458.87,89.43 L459.38,89.33 L459.89,89.21 L460.39,89.05 L460.90,88.86 L461.41,88.62 L461.92,88.33 L462.42,87.98 L462.93,87.57 L463.44,87.09 L463.95,86.54 L464.46,85.93 L464.96,85.25 L465.47,84.51 L465.98,83.73 L466.49,82.91 L466.99,82.07 L467.50,81.23 L468.01,80.41 L468.52,79.63 L469.03,78.93 L469.53,78.31 L470.04,77.80 L470.55,77.42 L471.06,77.19 L471.56,77.10 L472.07,77.29 L472.58,77.90 L473.09,78.87 L473.60,80.11 L474.10,81.50 L474.61,82.93 L475.12,84.31 L475.63,85.56 L476.13,86.62 L476.64,87.50 L477.15,88.18 L477.66,88.68 L478.17,89.04 L478.67,89.29 L479.18,89.46 L479.69,89.56 L480.20,89.62 L480.70,89.66 L481.21,89.68 L481.72,89.69 L482.23,89.69 L482.74,89.70 L483.24,89.70 L483.75,89.70 L484.26,89.70 L484.77,89.70 L485.27,89.70 L485.78,89.70 L486.29,89.70 L486.80,89.70 L487.31,89.70 L487.81,89.70 L488.32,89.70 L488.83,89.70 L489.34,89.70 L489.84,89.70 L490.35,89.70 L490.86,89.70 L491.37,89.70 L491.88,89.70 L492.38,89.70 L492.89,89.70 L493.40,89.70 L493.91,89.70 L494.41,89.70 L494.92,89.70 L495.43,89.70 L495.94,89.70 L496.45,89.70 L496.95,89.70 L497.46,89.70 L497.97,89.70 L498.48,89.70 L498.98,89.70 L499.49,89.70 L500.00,89.70 L500.51,89.70 L501.02,89.70 L501.52,89.70 L502.03,89.70 L502.54,89.70 L503.05,89.70 L503.55,89.70 L504.06,89.70 L504.57,89.70 L505.08,89.70 L505.59,89.70 L506.09,89.70 L506.60,89.70 L507.11,89.70 L507.62,89.70 L508.12,89.70 L508.63,89.70 L509.14,89.70 L509.65,89.70 L510.16,89.70 L510.66,89.70 L511.17,89.70 L511.68,89.70 L512.19,89.70 L512.69,89.70 L513.20,89.70 L513.71,89.70 L514.22,89.70 L514.73,89.70 L515.23,89.70 L515.74,89.70 L516.25,89.70 L516.76,89.70 L517.26,89.70 L517.77,89.70 L518.28,89.70 L518.79,89.70 L519.30,89.70 L519.80,89.70 L520.31,89.70 L520.82,89.70 L521.33,89.70 L521.83,89.70 L522.34,89.70 L522.85,89.70 L523.36,89.70 L523.87,89.70 L524.37,89.70 L524.88,89.70 L525.39,89.70 L525.90,89.70 L526.40,89.70 L526.91,89.70 L527.42,89.70 L527.93,89.70 L528.44,89.70 L528.94,89.70 L529.45,89.70 L529.96,89.70 L530.47,89.70 L530.97,89.70 L531.48,89.70 L531.99,89.70 L532.50,89.70 L533.01,89.70 L533.51,89.70 L534.02,89.70 L534.53,89.70 L535.04,89.70 L535.54,89.70 L536.05,89.70 L536.56,89.70 L537.07,89.70 L537.58,89.70 L538.08,89.70 L538.59,89.70 L539.10,89.70 L539.61,89.70 L540.11,89.70 L540.62,89.70 L541.13,89.70 L541.64,89.70 L542.15,89.70 L542.65,89.70 L543.16,89.70 L543.67,89.70 L544.18,89.70 L544.68,89.70 L545.19,89.70 L545.70,89.70 L545.7,89.7 L454.3,89.7 Z" fill="#f6b885" fill-opacity="0.9" stroke="none"/>
<path d="M454.30,89.69 L454.81,89.68 L455.32,89.68 L455.82,89.66 L456.33,89.65 L456.84,89.63 L457.35,89.60 L457.85,89.55 L458.36,89.50 L458.87,89.43 L459.38,89.33 L459.89,89.21 L460.39,89.05 L460.90,88.86 L461.41,88.62 L461.92,88.33 L462.42,87.98 L462.93,87.57 L463.44,87.09 L463.95,86.54 L464.46,85.93 L464.96,85.25 L465.47,84.51 L465.98,83.73 L466.49,82.91 L466.99,82.07 L467.50,81.23 L468.01,80.41 L468.52,79.63 L469.03,78.93 L469.53,78.31 L470.04,77.80 L470.55,77.42 L471.06,77.19 L471.56,77.10 L472.07,77.29 L472.58,77.90 L473.09,78.87 L473.60,80.11 L474.10,81.50 L474.61,82.93 L475.12,84.31 L475.63,85.56 L476.13,86.62 L476.64,87.50 L477.15,88.18 L477.66,88.68 L478.17,89.04 L478.67,89.29 L479.18,89.46 L479.69,89.56 L480.20,89.62 L480.70,89.66 L481.21,89.68 L481.72,89.69 L482.23,89.69 L482.74,89.70 L483.24,89.70 L483.75,89.70 L484.26,89.70 L484.77,89.70 L485.27,89.70 L485.78,89.70 L486.29,89.70 L486.80,89.70 L487.31,89.70 L487.81,89.70 L488.32,89.70 L488.83,89.70 L489.34,89.70 L489.84,89.70 L490.35,89.70 L490.86,89.70 L491.37,89.70 L491.88,89.70 L492.38,89.70 L492.89,89.70 L493.40,89.70 L493.91,89.70 L494.41,89.70 L494.92,89.70 L495.43,89.70 L495.94,89.70 L496.45,89.70 L496.95,89.70 L497.46,89.70 L497.97,89.70 L498.48,89.70 L498.98,89.70 L499.49,89.70 L500.00,89.70 L500.51,89.70 L501.02,89.70 L501.52,89.70 L502.03,89.70 L502.54,89.70 L503.05,89.70 L503.55,89.70 L504.06,89.70 L504.57,89.70 L505.08,89.70 L505.59,89.70 L506.09,89.70 L506.60,89.70 L507.11,89.70 L507.62,89.70 L508.12,89.70 L508.63,89.70 L509.14,89.70 L509.65,89.70 L510.16,89.70 L510.66,89.70 L511.17,89.70 L511.68,89.70 L512.19,89.70 L512.69,89.70 L513.20,89.70 L513.71,89.70 L514.22,89.70 L514.73,89.70 L515.23,89.70 L515.74,89.70 L516.25,89.70 L516.76,89.70 L517.26,89.70 L517.77,89.70 L518.28,89.70 L518.79,89.70 L519.30,89.70 L519.80,89.70 L520.31,89.70 L520.82,89.70 L521.33,89.70 L521.83,89.70 L522.34,89.70 L522.85,89.70 L523.36,89.70 L523.87,89.70 L524.37,89.70 L524.88,89.70 L525.39,89.70 L525.90,89.70 L526.40,89.70 L526.91,89.70 L527.42,89.70 L527.93,89.70 L528.44,89.70 L528.94,89.70 L529.45,89.70 L529.96,89.70 L530.47,89.70 L530.97,89.70 L531.48,89.70 L531.99,89.70 L532.50,89.70 L533.01,89.70 L533.51,89.70 L534.02,89.70 L534.53,89.70 L535.04,89.70 L535.54,89.70 L536.05,89.70 L536.56,89.70 L537.07,89.70 L537.58,89.70 L538.08,89.70 L538.59,89.70 L539.10,89.70 L539.61,89.70 L540.11,89.70 L540.62,89.70 L541.13,89.70 L541.64,89.70 L542.15,89.70 L542.65,89.70 L543.16,89.70 L543.67,89.70 L544.18,89.70 L544.68,89.70 L545.19,89.70 L545.70,89.70" fill="none" stroke="#eea066" stroke-width="0.6"/>
<path d="M454.30,104.46 L454.81,104.41 L455.32,104.34 L455.82,104.25 L456.33,104.14 L456.84,103.99 L457.35,103.81 L457.85,103.60 L458.36,103.33 L458.87,103.02 L459.38,102.65 L459.89,102.23 L460.39,101.76 L460.90,101.22 L461.41,100.64 L461.92,100.01 L462.42,99.35 L462.93,98.66 L463.44,97.96 L463.95,97.28 L464.46,96.62 L464.96,96.00 L465.47,95.45 L465.98,94.98 L466.49,94.62 L466.99,94.36 L467.50,94.22 L468.01,94.22 L468.52,94.43 L469.03,94.85 L469.53,95.47 L470.04,96.23 L470.55,97.10 L471.06,98.03 L471.56,98.97 L472.07,99.88 L472.58,100.73 L473.09,101.50 L473.60,102.17 L474.10,102.73 L474.61,103.20 L475.12,103.57 L475.63,103.86 L476.13,104.08 L476.64,104.25 L477.15,104.36 L477.66,104.44 L478.17,104.50 L478.67,104.54 L479.18,104.56 L479.69,104.58 L480.20,104.59 L480.70,104.59 L481.21,104.60 L481.72,104.60 L482.23,104.60 L482.74,104.60 L483.24,104.60 L483.75,104.60 L484.26,104.60 L484.77,104.60 L485.27,104.60 L485.78,104.60 L486.29,104.60 L486.80,104.60 L487.31,104.60 L487.81,104.60 L488.32,104.60 L488.83,104.60 L489.34,104.60 L489.84,104.60 L490.35,104.60 L490.86,104.60 L491.37,104.60 L491.88,104.60 L492.38,104.60 L492.89,104.60 L493.40,104.60 L493.91,104.60 L494.41,104.60 L494.92,104.60 L495.43,104.60 L495.94,104.60 L496.45,104.60 L496.95,104.60 L497.46,104.60 L497.97,104.60 L498.48,104.60 L498.98,104.60 L499.49,104.60 L500.00,104.60 L500.51,104.60 L501.02,104.60 L501.52,104.60 L502.03,104.60 L502.54,104.60 L503.05,104.60 L503.55,104.60 L504.06,104.60 L504.57,104.60 L505.08,104.60 L505.59,104.60 L506.09,104.60 L506.60,104.60 L507.11,104.60 L507.62,104.60 L508.12,104.60 L508.63,104.60 L509.14,104.60 L509.65,104.60 L510.16,104.60 L510.66,104.60 L511.17,104.60 L511.68,104.60 L512.19,104.60 L512.69,104.60 L513.20,104.60 L513.71,104.60 L514.22,104.60 L514.73,104.60 L515.23,104.60 L515.74,104.60 L516.25,104.60 L516.76,104.60 L517.26,104.60 L517.77,104.60 L518.28,104.60 L518.79,104.60 L519.30,104.60 L519.80,104.60 L520.31,104.60 L520.82,104.60 L521.33,104.60 L521.83,104.60 L522.34,104.60 L522.85,104.60 L523.36,104.60 L523.87,104.60 L524.37,104.60 L524.88,104.60 L525.39,104.60 L525.90,104.60 L526.40,104.60 L526.91,104.60 L527.42,104.60 L527.93,104.60 L528.44,104.60 L528.94,104.60 L529.45,104.60 L529.96,104.60 L530.47,104.60 L530.97,104.60 L531.48,104.60 L531.99,104.60 L532.50,104.60 L533.01,104.60 L533.51,104.60 L534.02,104.60 L534.53,104.60 L535.04,104.60 L535.54,104.60 L536.05,104.60 L536.56,104.60 L537.07,104.60 L537.58,104.60 L538.08,104.60 L538.59,104.60 L539.10,104.60 L539.61,104.60 L540.11,104.60 L540.62,104.60 L541.13,104.60 L541.64,104.60 L542.15,104.60 L542.65,104.60 L543.16,104.60 L543.67,104.60 L544.18,104.60 L544.68,104.60 L545.19,104.60 L545.70,104.60 L545.7,104.6 L454.3,104.6 Z" fill="#f48a90" fill-opacity="0.9" stroke="none"/>
<path d="M454.30,104.46 L454.81,104.41 L455.32,104.34 L455.82,104.25 L456.33,104.14 L456.84,103.99 L457.35,103.81 L457.85,103.60 L458.36,103.33 L458.87,103.02 L459.38,102.65 L459.89,102.23 L460.39,101.76 L460.90,101.22 L461.41,100.64 L461.92,100.01 L462.42,99.35 L462.93,98.66 L463.44,97.96 L463.95,97.28 L464.46,96.62 L464.96,96.00 L465.47,95.45 L465.98,94.98 L466.49,94.62 L466.99,94.36 L467.50,94.22 L468.01,94.22 L468.52,94.43 L469.03,94.85 L469.53,95.47 L470.04,96.23 L470.55,97.10 L471.06,98.03 L471.56,98.97 L472.07,99.88 L472.58,100.73 L473.09,101.50 L473.60,102.17 L474.10,102.73 L474.61,103.20 L475.12,103.57 L475.63,103.86 L476.13,104.08 L476.64,104.25 L477.15,104.36 L477.66,104.44 L478.17,104.50 L478.67,104.54 L479.18,104.56 L479.69,104.58 L480.20,104.59 L480.70,104.59 L481.21,104.60 L481.72,104.60 L482.23,104.60 L482.74,104.60 L483.24,104.60 L483.75,104.60 L484.26,104.60 L484.77,104.60 L485.27,104.60 L485.78,104.60 L486.29,104.60 L486.80,104.60 L487.31,104.60 L487.81,104.60 L488.32,104.60 L488.83,104.60 L489.34,104.60 L489.84,104.60 L490.35,104.60 L490.86,104.60 L491.37,104.60 L491.88,104.60 L492.38,104.60 L492.89,104.60 L493.40,104.60 L493.91,104.60 L494.41,104.60 L494.92,104.60 L495.43,104.60 L495.94,104.60 L496.45,104.60 L496.95,104.60 L497.46,104.60 L497.97,104.60 L498.48,104.60 L498.98,104.60 L499.49,104.60 L500.00,104.60 L500.51,104.60 L501.02,104.60 L501.52,104.60 L502.03,104.60 L502.54,104.60 L503.05,104.60 L503.55,104.60 L504.06,104.60 L504.57,104.60 L505.08,104.60 L505.59,104.60 L506.09,104.60 L506.60,104.60 L507.11,104.60 L507.62,104.60 L508.12,104.60 L508.63,104.60 L509.14,104.60 L509.65,104.60 L510.16,104.60 L510.66,104.60 L511.17,104.60 L511.68,104.60 L512.19,104.60 L512.69,104.60 L513.20,104.60 L513.71,104.60 L514.22,104.60 L514.73,104.60 L515.23,104.60 L515.74,104.60 L516.25,104.60 L516.76,104.60 L517.26,104.60 L517.77,104.60 L518.28,104.60 L518.79,104.60 L519.30,104.60 L519.80,104.60 L520.31,104.60 L520.82,104.60 L521.33,104.60 L521.83,104.60 L522.34,104.60 L522.85,104.60 L523.36,104.60 L523.87,104.60 L524.37,104.60 L524.88,104.60 L525.39,104.60 L525.90,104.60 L526.40,104.60 L526.91,104.60 L527.42,104.60 L527.93,104.60 L528.44,104.60 L528.94,104.60 L529.45,104.60 L529.96,104.60 L530.47,104.60 L530.97,104.60 L531.48,104.60 L531.99,104.60 L532.50,104.60 L533.01,104.60 L533.51,104.60 L534.02,104.60 L534.53,104.60 L535.04,104.60 L535.54,104.60 L536.05,104.60 L536.56,104.60 L537.07,104.60 L537.58,104.60 L538.08,104.60 L538.59,104.60 L539.10,104.60 L539.61,104.60 L540.11,104.60 L540.62,104.60 L541.13,104.60 L541.64,104.60 L542.15,104.60 L542.65,104.60 L543.16,104.60 L543.67,104.60 L544.18,104.60 L544.68,104.60 L545.19,104.60 L545.70,104.60" fill="none" stroke="#ec6c74" stroke-width="0.6"/>
<line x1="466.00" y1="104.6" x2="466.00" y2="106.8" stroke="#555" stroke-width="0.7"/>
<text x="466.90" y="115.0" font-family='"Liberation Serif", serif' font-size="4.4" fill="#333" text-anchor="middle" stroke="#333" stroke-width="0.07">10<tspan dy="-2.3" font-size="3.2">2</tspan></text>
<line x1="456.81" y1="104.6" x2="456.81" y2="106.1" stroke="#555" stroke-width="0.55"/>
<line x1="459.05" y1="104.6" x2="459.05" y2="106.1" stroke="#555" stroke-width="0.55"/>
<line x1="460.88" y1="104.6" x2="460.88" y2="106.1" stroke="#555" stroke-width="0.55"/>
<line x1="462.42" y1="104.6" x2="462.42" y2="106.1" stroke="#555" stroke-width="0.55"/>
<line x1="463.76" y1="104.6" x2="463.76" y2="106.1" stroke="#555" stroke-width="0.55"/>
<line x1="464.94" y1="104.6" x2="464.94" y2="106.1" stroke="#555" stroke-width="0.55"/>
<line x1="489.10" y1="104.6" x2="489.10" y2="106.8" stroke="#555" stroke-width="0.7"/>
<text x="490.00" y="115.0" font-family='"Liberation Serif", serif' font-size="4.4" fill="#333" text-anchor="middle" stroke="#333" stroke-width="0.07">10<tspan dy="-2.3" font-size="3.2">3</tspan></text>
<line x1="472.95" y1="104.6" x2="472.95" y2="106.1" stroke="#555" stroke-width="0.55"/>
<line x1="477.02" y1="104.6" x2="477.02" y2="106.1" stroke="#555" stroke-width="0.55"/>
<line x1="479.91" y1="104.6" x2="479.91" y2="106.1" stroke="#555" stroke-width="0.55"/>
<line x1="482.15" y1="104.6" x2="482.15" y2="106.1" stroke="#555" stroke-width="0.55"/>
<line x1="483.98" y1="104.6" x2="483.98" y2="106.1" stroke="#555" stroke-width="0.55"/>
<line x1="485.52" y1="104.6" x2="485.52" y2="106.1" stroke="#555" stroke-width="0.55"/>
<line x1="486.86" y1="104.6" x2="486.86" y2="106.1" stroke="#555" stroke-width="0.55"/>
<line x1="488.04" y1="104.6" x2="488.04" y2="106.1" stroke="#555" stroke-width="0.55"/>
<line x1="512.20" y1="104.6" x2="512.20" y2="106.8" stroke="#555" stroke-width="0.7"/>
<text x="513.10" y="115.0" font-family='"Liberation Serif", serif' font-size="4.4" fill="#333" text-anchor="middle" stroke="#333" stroke-width="0.07">10<tspan dy="-2.3" font-size="3.2">4</tspan></text>
<line x1="496.05" y1="104.6" x2="496.05" y2="106.1" stroke="#555" stroke-width="0.55"/>
<line x1="500.12" y1="104.6" x2="500.12" y2="106.1" stroke="#555" stroke-width="0.55"/>
<line x1="503.01" y1="104.6" x2="503.01" y2="106.1" stroke="#555" stroke-width="0.55"/>
<line x1="505.25" y1="104.6" x2="505.25" y2="106.1" stroke="#555" stroke-width="0.55"/>
<line x1="507.08" y1="104.6" x2="507.08" y2="106.1" stroke="#555" stroke-width="0.55"/>
<line x1="508.62" y1="104.6" x2="508.62" y2="106.1" stroke="#555" stroke-width="0.55"/>
<line x1="509.96" y1="104.6" x2="509.96" y2="106.1" stroke="#555" stroke-width="0.55"/>
<line x1="511.14" y1="104.6" x2="511.14" y2="106.1" stroke="#555" stroke-width="0.55"/>
<line x1="535.30" y1="104.6" x2="535.30" y2="106.8" stroke="#555" stroke-width="0.7"/>
<text x="536.20" y="115.0" font-family='"Liberation Serif", serif' font-size="4.4" fill="#333" text-anchor="middle" stroke="#333" stroke-width="0.07">10<tspan dy="-2.3" font-size="3.2">5</tspan></text>
<line x1="519.15" y1="104.6" x2="519.15" y2="106.1" stroke="#555" stroke-width="0.55"/>
<line x1="542.25" y1="104.6" x2="542.25" y2="106.1" stroke="#555" stroke-width="0.55"/>
<line x1="523.22" y1="104.6" x2="523.22" y2="106.1" stroke="#555" stroke-width="0.55"/>
<line x1="526.11" y1="104.6" x2="526.11" y2="106.1" stroke="#555" stroke-width="0.55"/>
<line x1="528.35" y1="104.6" x2="528.35" y2="106.1" stroke="#555" stroke-width="0.55"/>
<line x1="530.18" y1="104.6" x2="530.18" y2="106.1" stroke="#555" stroke-width="0.55"/>
<line x1="531.72" y1="104.6" x2="531.72" y2="106.1" stroke="#555" stroke-width="0.55"/>
<line x1="533.06" y1="104.6" x2="533.06" y2="106.1" stroke="#555" stroke-width="0.55"/>
<line x1="534.24" y1="104.6" x2="534.24" y2="106.1" stroke="#555" stroke-width="0.55"/>
<text x="501.40" y="123.30" font-family='"Liberation Serif", serif' font-size="7.9" font-weight="bold" fill="#000" text-anchor="middle"  stroke="#000" stroke-width="0.16">Cell surface binding</text>
<text x="36.60" y="156.20" font-family='"Liberation Serif", serif' font-size="19.5" font-weight="normal" fill="#000" text-anchor="start" >(D)</text>
<text x="117.60" y="168.60" font-family='"Liberation Serif", serif' font-size="8" font-weight="bold" fill="#000" text-anchor="middle"  stroke="#000" stroke-width="0.16">VH20-OKT3-Fc</text>
<text transform="translate(88.2,185.8) scale(1,1.1)" font-family='"Liberation Serif", serif' font-size="6.9" font-weight="bold" stroke="#000" stroke-width="0.16">IC<tspan font-size="4.5" dy="1.6">50</tspan><tspan dy="-1.6">=0.01 nM</tspan></text>
<line x1="56.9" y1="176.09999999999997" x2="56.9" y2="253.7" stroke="#000" stroke-width="0.9"/>
<line x1="56.5" y1="253.2" x2="171.9" y2="253.2" stroke="#000" stroke-width="0.9"/>
<line x1="54.3" y1="253.20" x2="56.9" y2="253.20" stroke="#000" stroke-width="0.8"/>
<text x="52.40" y="255.80" font-family='"Liberation Sans", sans-serif' font-size="5.5" font-weight="bold" fill="#000" text-anchor="end"  stroke="#000" stroke-width="0.16">0</text>
<line x1="54.3" y1="227.60" x2="56.9" y2="227.60" stroke="#000" stroke-width="0.8"/>
<text x="52.40" y="230.20" font-family='"Liberation Sans", sans-serif' font-size="5.5" font-weight="bold" fill="#000" text-anchor="end"  stroke="#000" stroke-width="0.16">20</text>
<line x1="54.3" y1="202.00" x2="56.9" y2="202.00" stroke="#000" stroke-width="0.8"/>
<text x="52.40" y="204.60" font-family='"Liberation Sans", sans-serif' font-size="5.5" font-weight="bold" fill="#000" text-anchor="end"  stroke="#000" stroke-width="0.16">40</text>
<line x1="54.3" y1="176.40" x2="56.9" y2="176.40" stroke="#000" stroke-width="0.8"/>
<text x="52.40" y="179.00" font-family='"Liberation Sans", sans-serif' font-size="5.5" font-weight="bold" fill="#000" text-anchor="end"  stroke="#000" stroke-width="0.16">60</text>
<line x1="56.90" y1="253.2" x2="56.90" y2="255.6" stroke="#000" stroke-width="0.8"/>
<text x="56.90" y="262.90" font-family='"Liberation Sans", sans-serif' font-size="5.6" font-weight="bold" fill="#000" text-anchor="middle"  stroke="#000" stroke-width="0.16">0.0001</text>
<line x1="76.00" y1="253.2" x2="76.00" y2="255.6" stroke="#000" stroke-width="0.8"/>
<text x="76.00" y="262.90" font-family='"Liberation Sans", sans-serif' font-size="5.6" font-weight="bold" fill="#000" text-anchor="middle"  stroke="#000" stroke-width="0.16">0.001</text>
<line x1="95.10" y1="253.2" x2="95.10" y2="255.6" stroke="#000" stroke-width="0.8"/>
<text x="95.10" y="262.90" font-family='"Liberation Sans", sans-serif' font-size="5.6" font-weight="bold" fill="#000" text-anchor="middle"  stroke="#000" stroke-width="0.16">0.01</text>
<line x1="114.20" y1="253.2" x2="114.20" y2="255.6" stroke="#000" stroke-width="0.8"/>
<text x="114.20" y="262.90" font-family='"Liberation Sans", sans-serif' font-size="5.6" font-weight="bold" fill="#000" text-anchor="middle"  stroke="#000" stroke-width="0.16">0.1</text>
<line x1="133.30" y1="253.2" x2="133.30" y2="255.6" stroke="#000" stroke-width="0.8"/>
<text x="133.30" y="262.90" font-family='"Liberation Sans", sans-serif' font-size="5.6" font-weight="bold" fill="#000" text-anchor="middle"  stroke="#000" stroke-width="0.16">1</text>
<line x1="152.40" y1="253.2" x2="152.40" y2="255.6" stroke="#000" stroke-width="0.8"/>
<text x="152.40" y="262.90" font-family='"Liberation Sans", sans-serif' font-size="5.6" font-weight="bold" fill="#000" text-anchor="middle"  stroke="#000" stroke-width="0.16">10</text>
<line x1="171.50" y1="253.2" x2="171.50" y2="255.6" stroke="#000" stroke-width="0.8"/>
<text x="171.50" y="262.90" font-family='"Liberation Sans", sans-serif' font-size="5.6" font-weight="bold" fill="#000" text-anchor="middle"  stroke="#000" stroke-width="0.16">100</text>
<text x="114.30" y="271.80" font-family='"Liberation Sans", sans-serif' font-size="6.5" font-weight="bold" fill="#000" text-anchor="middle"  stroke="#000" stroke-width="0.16">Concentration (nM)</text>
<text transform="translate(42.6,215) rotate(-90)" font-family='"Liberation Sans", sans-serif' font-size="6" font-weight="bold" text-anchor="middle" stroke="#000" stroke-width="0.16">% of killing</text>
<polyline points="61.27,252.35 62.03,252.27 62.79,252.18 63.55,252.08 64.31,251.98 65.07,251.86 65.83,251.74 66.59,251.60 67.35,251.45 68.10,251.29 68.86,251.12 69.62,250.93 70.38,250.72 71.14,250.49 71.90,250.25 72.66,249.98 73.42,249.69 74.18,249.38 74.94,249.04 75.70,248.68 76.46,248.28 77.22,247.86 77.98,247.40 78.74,246.91 79.50,246.39 80.26,245.82 81.01,245.22 81.77,244.58 82.53,243.89 83.29,243.17 84.05,242.40 84.81,241.59 85.57,240.73 86.33,239.83 87.09,238.89 87.85,237.91 88.61,236.89 89.37,235.83 90.13,234.74 90.89,233.61 91.65,232.46 92.41,231.28 93.17,230.09 93.92,228.87 94.68,227.65 95.44,226.42 96.20,225.19 96.96,223.96 97.72,222.75 98.48,221.55 99.24,220.37 100.00,219.21 100.76,218.08 101.52,216.98 102.28,215.92 103.04,214.89 103.80,213.90 104.56,212.95 105.32,212.05 106.08,211.19 106.83,210.37 107.59,209.59 108.35,208.86 109.11,208.17 109.87,207.52 110.63,206.91 111.39,206.34 112.15,205.81 112.91,205.31 113.67,204.85 114.43,204.42 115.19,204.02 115.95,203.65 116.71,203.31 117.47,203.00 118.23,202.70 118.99,202.43 119.75,202.19 120.50,201.96 121.26,201.75 122.02,201.55 122.78,201.37 123.54,201.21 124.30,201.06 125.06,200.92 125.82,200.80 126.58,200.68 127.34,200.57 128.10,200.48 128.86,200.39 129.62,200.31 130.38,200.23 131.14,200.16 131.90,200.10 132.66,200.04 133.41,199.99 134.17,199.94 134.93,199.90 135.69,199.86 136.45,199.82 137.21,199.79 137.97,199.76 138.73,199.73 139.49,199.71 140.25,199.68 141.01,199.66 141.77,199.64 142.53,199.62 143.29,199.61 144.05,199.59 144.81,199.58 145.57,199.57 146.32,199.56 147.08,199.55 147.84,199.54 148.60,199.53 149.36,199.52 150.12,199.51 150.88,199.51 151.64,199.50 152.40,199.50" fill="none" stroke="#d9782b" stroke-width="0.8"/>
<polyline points="61.27,252.56 70.38,251.54 79.50,250.38 88.61,251.02 97.72,251.02 106.83,249.36 115.95,249.10 125.06,247.18 134.17,242.58 143.29,239.12 152.40,237.20" fill="none" stroke="#d9782b" stroke-width="0.8"/>
<circle cx="61.27" cy="252.56" r="1.45" fill="#d9782b"/>
<path d="M70.38,252.56 V249.49 M69.18,252.56 h2.4 M69.18,249.49 h2.4" stroke="#d9782b" stroke-width="0.5" fill="none"/>
<circle cx="70.38" cy="251.02" r="1.45" fill="#d9782b"/>
<path d="M79.50,249.87 V246.03 M78.30,249.87 h2.4 M78.30,246.03 h2.4" stroke="#d9782b" stroke-width="0.5" fill="none"/>
<circle cx="79.50" cy="247.95" r="1.45" fill="#d9782b"/>
<circle cx="88.61" cy="236.43" r="1.45" fill="#d9782b"/>
<path d="M97.72,222.99 V217.87 M96.52,222.99 h2.4 M96.52,217.87 h2.4" stroke="#d9782b" stroke-width="0.5" fill="none"/>
<circle cx="97.72" cy="220.43" r="1.45" fill="#d9782b"/>
<circle cx="106.83" cy="210.45" r="1.45" fill="#d9782b"/>
<circle cx="115.95" cy="206.22" r="1.45" fill="#d9782b"/>
<circle cx="125.06" cy="202.26" r="1.45" fill="#d9782b"/>
<path d="M134.17,203.28 V193.81 M132.97,203.28 h2.4 M132.97,193.81 h2.4" stroke="#d9782b" stroke-width="0.5" fill="none"/>
<circle cx="134.17" cy="198.54" r="1.45" fill="#d9782b"/>
<path d="M143.29,202.90 V189.07 M142.09,202.90 h2.4 M142.09,189.07 h2.4" stroke="#d9782b" stroke-width="0.5" fill="none"/>
<circle cx="143.29" cy="195.98" r="1.45" fill="#d9782b"/>
<path d="M152.40,202.90 V199.82 M151.20,202.90 h2.4 M151.20,199.82 h2.4" stroke="#d9782b" stroke-width="0.5" fill="none"/>
<circle cx="152.40" cy="201.36" r="1.45" fill="#d9782b"/>
<path d="M61.27,250.66 L63.17,252.56 L61.27,254.46 L59.37,252.56 Z" fill="#fff" stroke="#d9782b" stroke-width="1.05"/>
<path d="M70.38,249.64 L72.28,251.54 L70.38,253.44 L68.48,251.54 Z" fill="#fff" stroke="#d9782b" stroke-width="1.05"/>
<path d="M79.50,248.48 L81.40,250.38 L79.50,252.28 L77.60,250.38 Z" fill="#fff" stroke="#d9782b" stroke-width="1.05"/>
<path d="M88.61,249.12 L90.51,251.02 L88.61,252.92 L86.71,251.02 Z" fill="#fff" stroke="#d9782b" stroke-width="1.05"/>
<path d="M97.72,249.12 L99.62,251.02 L97.72,252.92 L95.82,251.02 Z" fill="#fff" stroke="#d9782b" stroke-width="1.05"/>
<path d="M106.83,247.46 L108.73,249.36 L106.83,251.26 L104.93,249.36 Z" fill="#fff" stroke="#d9782b" stroke-width="1.05"/>
<path d="M115.95,247.20 L117.85,249.10 L115.95,251.00 L114.05,249.10 Z" fill="#fff" stroke="#d9782b" stroke-width="1.05"/>
<path d="M125.06,245.28 L126.96,247.18 L125.06,249.08 L123.16,247.18 Z" fill="#fff" stroke="#d9782b" stroke-width="1.05"/>
<path d="M134.17,240.68 L136.07,242.58 L134.17,244.48 L132.27,242.58 Z" fill="#fff" stroke="#d9782b" stroke-width="1.05"/>
<path d="M143.29,237.22 L145.19,239.12 L143.29,241.02 L141.39,239.12 Z" fill="#fff" stroke="#d9782b" stroke-width="1.05"/>
<path d="M152.40,235.30 L154.30,237.20 L152.40,239.10 L150.50,237.20 Z" fill="#fff" stroke="#d9782b" stroke-width="1.05"/>
<line x1="165.8" y1="181.9" x2="174.4" y2="181.9" stroke="#d9782b" stroke-width="0.75"/>
<path d="M170.1,180.1 L171.9,181.9 L170.1,183.7 L168.3,181.9 Z" fill="#fff" stroke="#d9782b" stroke-width="1"/>
<line x1="165.8" y1="192.0" x2="174.4" y2="192.0" stroke="#d9782b" stroke-width="0.75"/>
<circle cx="170.1" cy="192.0" r="1.45" fill="#d9782b"/>
<text x="179.10" y="183.90" font-family='"Liberation Sans", sans-serif' font-size="6.05" font-weight="normal" fill="#222" text-anchor="start"  stroke="#222" stroke-width="0.08">293T</text>
<text x="179.10" y="194.10" font-family='"Liberation Sans", sans-serif' font-size="6.05" font-weight="normal" fill="#222" text-anchor="start"  stroke="#222" stroke-width="0.08">293T-ALK</text>
<text x="233.20" y="156.70" font-family='"Liberation Serif", serif' font-size="19.3" font-weight="normal" fill="#000" text-anchor="start" >(E)</text>
<text x="294.4" y="171.0" font-family='"Liberation Serif", serif' font-size="7.3" font-weight="bold" stroke="#000" stroke-width="0.16">IC<tspan font-size="4.3" dy="1.8">50(SY5Y)</tspan><tspan dy="-1.8">=0.15 nM</tspan></text>
<text x="294.4" y="179.2" font-family='"Liberation Serif", serif' font-size="7.3" font-weight="bold" stroke="#000" stroke-width="0.16">IC<tspan font-size="4.3" dy="1.8">50(IMR32)</tspan><tspan dy="-1.8">=0.1 nM</tspan></text>
<line x1="270.9" y1="175.1" x2="270.9" y2="273.9" stroke="#000" stroke-width="1.1"/>
<line x1="270.9" y1="253.9" x2="419.4" y2="253.9" stroke="#000" stroke-width="1.1"/>
<line x1="267.7" y1="273.50" x2="270.9" y2="273.50" stroke="#000" stroke-width="1"/>
<text x="265.70" y="276.15" font-family='"Liberation Sans", sans-serif' font-size="7.6" font-weight="bold" fill="#000" text-anchor="end"  stroke="#000" stroke-width="0.16">−50</text>
<line x1="267.7" y1="253.90" x2="270.9" y2="253.90" stroke="#000" stroke-width="1"/>
<text x="265.70" y="256.55" font-family='"Liberation Sans", sans-serif' font-size="7.6" font-weight="bold" fill="#000" text-anchor="end"  stroke="#000" stroke-width="0.16">0</text>
<line x1="267.7" y1="234.30" x2="270.9" y2="234.30" stroke="#000" stroke-width="1"/>
<text x="265.70" y="236.95" font-family='"Liberation Sans", sans-serif' font-size="7.6" font-weight="bold" fill="#000" text-anchor="end"  stroke="#000" stroke-width="0.16">50</text>
<line x1="267.7" y1="214.70" x2="270.9" y2="214.70" stroke="#000" stroke-width="1"/>
<text x="265.70" y="217.35" font-family='"Liberation Sans", sans-serif' font-size="7.6" font-weight="bold" fill="#000" text-anchor="end"  stroke="#000" stroke-width="0.16">100</text>
<line x1="267.7" y1="195.10" x2="270.9" y2="195.10" stroke="#000" stroke-width="1"/>
<text x="265.70" y="197.75" font-family='"Liberation Sans", sans-serif' font-size="7.6" font-weight="bold" fill="#000" text-anchor="end"  stroke="#000" stroke-width="0.16">150</text>
<line x1="267.7" y1="175.50" x2="270.9" y2="175.50" stroke="#000" stroke-width="1"/>
<text x="265.70" y="178.15" font-family='"Liberation Sans", sans-serif' font-size="7.6" font-weight="bold" fill="#000" text-anchor="end"  stroke="#000" stroke-width="0.16">200</text>
<line x1="300.50" y1="253.9" x2="300.50" y2="256.9" stroke="#000" stroke-width="1"/>
<text x="300.50" y="266.50" font-family='"Liberation Sans", sans-serif' font-size="7" font-weight="bold" fill="#000" text-anchor="middle"  stroke="#000" stroke-width="0.16">0.01</text>
<line x1="330.10" y1="253.9" x2="330.10" y2="256.9" stroke="#000" stroke-width="1"/>
<text x="330.10" y="266.50" font-family='"Liberation Sans", sans-serif' font-size="7" font-weight="bold" fill="#000" text-anchor="middle"  stroke="#000" stroke-width="0.16">0.1</text>
<line x1="359.70" y1="253.9" x2="359.70" y2="256.9" stroke="#000" stroke-width="1"/>
<text x="359.70" y="266.50" font-family='"Liberation Sans", sans-serif' font-size="7" font-weight="bold" fill="#000" text-anchor="middle"  stroke="#000" stroke-width="0.16">1</text>
<line x1="389.30" y1="253.9" x2="389.30" y2="256.9" stroke="#000" stroke-width="1"/>
<text x="389.30" y="266.50" font-family='"Liberation Sans", sans-serif' font-size="7" font-weight="bold" fill="#000" text-anchor="middle"  stroke="#000" stroke-width="0.16">10</text>
<line x1="418.90" y1="253.9" x2="418.90" y2="256.9" stroke="#000" stroke-width="1"/>
<text x="418.90" y="266.50" font-family='"Liberation Sans", sans-serif' font-size="7" font-weight="bold" fill="#000" text-anchor="middle"  stroke="#000" stroke-width="0.16">100</text>
<text x="345.40" y="278.30" font-family='"Liberation Sans", sans-serif' font-size="8.2" font-weight="bold" fill="#000" text-anchor="middle"  stroke="#000" stroke-width="0.16">concentration (nM)</text>
<text transform="translate(247.8,223.8) rotate(-90)" font-family='"Liberation Sans", sans-serif' font-size="8" font-weight="bold" text-anchor="middle" stroke="#000" stroke-width="0.16">% of killing</text>
<polyline points="277.67,253.90 279.79,253.85 281.91,253.75 284.03,253.62 286.15,253.47 288.26,253.30 290.38,253.11 292.50,252.90 294.62,252.68 296.74,252.44 298.86,252.19 300.97,251.93 303.09,251.66 305.21,251.37 307.33,251.07 309.45,250.76 311.57,250.45 313.69,250.12 315.80,249.78 317.92,249.43 320.04,249.07 322.16,248.71 324.28,248.33 326.40,247.95 328.51,247.55 330.63,247.15 332.75,246.74 334.87,246.33 336.99,245.90 339.11,245.47 341.22,245.03 343.34,244.58 345.46,244.13 347.58,243.67 349.70,243.20 351.82,242.72 353.94,242.24 356.05,241.75 358.17,241.26 360.29,240.75 362.41,240.24 364.53,239.73 366.65,239.21 368.76,238.68 370.88,238.15 373.00,237.60 375.12,237.06 377.24,236.51 379.36,235.95 381.47,235.38 383.59,234.81 385.71,234.24 387.83,233.66 389.95,233.07 392.07,232.48 394.19,231.88 396.30,231.28 398.42,230.67 400.54,230.06 402.66,229.44 404.78,228.81" fill="none" stroke="#000" stroke-width="0.7"/>
<polyline points="277.67,253.90 279.79,253.88 281.91,253.83 284.03,253.77 286.15,253.69 288.26,253.59 290.38,253.48 292.50,253.35 294.62,253.21 296.74,253.06 298.86,252.89 300.97,252.72 303.09,252.53 305.21,252.33 307.33,252.12 309.45,251.89 311.57,251.66 313.69,251.42 315.80,251.17 317.92,250.90 320.04,250.63 322.16,250.35 324.28,250.05 326.40,249.75 328.51,249.44 330.63,249.12 332.75,248.79 334.87,248.45 336.99,248.11 339.11,247.75 341.22,247.38 343.34,247.01 345.46,246.63 347.58,246.24 349.70,245.84 351.82,245.43 353.94,245.02 356.05,244.59 358.17,244.16 360.29,243.72 362.41,243.28 364.53,242.82 366.65,242.36 368.76,241.89 370.88,241.41 373.00,240.92 375.12,240.43 377.24,239.92 379.36,239.41 381.47,238.90 383.59,238.37 385.71,237.84 387.83,237.30 389.95,236.76 392.07,236.20 394.19,235.64 396.30,235.07 398.42,234.50 400.54,233.92 402.66,233.33 404.78,232.73" fill="none" stroke="#ff1a1a" stroke-width="0.7"/>
<polyline points="277.67,247.63 291.79,247.63 305.92,247.63 320.04,247.63 334.16,247.63 348.29,247.63 362.41,247.63 376.53,247.63 390.65,247.63 404.78,247.63" fill="none" stroke="#4848d0" stroke-width="0.8"/>
<polyline points="277.67,250.18 291.79,250.18 305.92,250.18 320.04,250.18 334.16,250.18 348.29,250.18 362.41,250.18 376.53,250.18 390.65,250.18 404.78,250.18" fill="none" stroke="#4848d0" stroke-width="0.8"/>
<polyline points="277.67,239.32 278.73,239.25 279.79,239.17 280.85,239.09 281.91,239.00 282.97,238.90 284.03,238.79 285.09,238.68 286.15,238.55 287.20,238.42 288.26,238.27 289.32,238.11 290.38,237.94 291.44,237.76 292.50,237.56 293.56,237.35 294.62,237.12 295.68,236.88 296.74,236.61 297.80,236.33 298.86,236.03 299.92,235.70 300.97,235.35 302.03,234.98 303.09,234.58 304.15,234.16 305.21,233.71 306.27,233.22 307.33,232.71 308.39,232.17 309.45,231.60 310.51,231.00 311.57,230.36 312.63,229.69 313.69,228.98 314.74,228.24 315.80,227.47 316.86,226.67 317.92,225.83 318.98,224.96 320.04,224.07 321.10,223.14 322.16,222.19 323.22,221.22 324.28,220.22 325.34,219.21 326.40,218.18 327.45,217.14 328.51,216.09 329.57,215.03 330.63,213.97 331.69,212.92 332.75,211.87 333.81,210.82 334.87,209.79 335.93,208.78 336.99,207.79 338.05,206.81 339.11,205.86 340.17,204.94 341.22,204.04 342.28,203.17 343.34,202.34 344.40,201.53 345.46,200.76 346.52,200.02 347.58,199.32 348.64,198.65 349.70,198.01 350.76,197.40 351.82,196.83 352.88,196.29 353.94,195.78 354.99,195.30 356.05,194.85 357.11,194.42 358.17,194.03 359.23,193.65 360.29,193.31 361.35,192.98 362.41,192.68 363.47,192.39 364.53,192.13 365.59,191.88 366.65,191.65 367.70,191.44 368.76,191.25 369.82,191.06 370.88,190.89 371.94,190.74 373.00,190.59 374.06,190.46 375.12,190.33 376.18,190.21 377.24,190.11 378.30,190.01 379.36,189.92 380.42,189.83 381.47,189.75 382.53,189.68 383.59,189.62 384.65,189.55 385.71,189.50 386.77,189.45 387.83,189.40 388.89,189.35 389.95,189.31 391.01,189.27 392.07,189.24 393.13,189.21 394.19,189.18 395.24,189.15 396.30,189.12 397.36,189.10 398.42,189.08 399.48,189.06 400.54,189.04 401.60,189.02 402.66,189.01 403.72,188.99 404.78,188.98" fill="none" stroke="#222" stroke-width="0.8"/>
<polyline points="277.67,248.78 278.73,248.74 279.79,248.70 280.85,248.66 281.91,248.61 282.97,248.57 284.03,248.51 285.09,248.45 286.15,248.39 287.20,248.32 288.26,248.25 289.32,248.17 290.38,248.09 291.44,248.00 292.50,247.90 293.56,247.79 294.62,247.67 295.68,247.55 296.74,247.41 297.80,247.27 298.86,247.11 299.92,246.94 300.97,246.76 302.03,246.57 303.09,246.36 304.15,246.13 305.21,245.89 306.27,245.64 307.33,245.36 308.39,245.07 309.45,244.76 310.51,244.42 311.57,244.07 312.63,243.69 313.69,243.30 314.74,242.87 315.80,242.43 316.86,241.96 317.92,241.47 318.98,240.95 320.04,240.40 321.10,239.84 322.16,239.25 323.22,238.63 324.28,237.99 325.34,237.34 326.40,236.66 327.45,235.96 328.51,235.24 329.57,234.51 330.63,233.77 331.69,233.01 332.75,232.25 333.81,231.48 334.87,230.70 335.93,229.93 336.99,229.16 338.05,228.39 339.11,227.62 340.17,226.87 341.22,226.13 342.28,225.40 343.34,224.69 344.40,223.99 345.46,223.32 346.52,222.66 347.58,222.03 348.64,221.42 349.70,220.83 350.76,220.26 351.82,219.73 352.88,219.21 353.94,218.72 354.99,218.26 356.05,217.81 357.11,217.40 358.17,217.00 359.23,216.63 360.29,216.28 361.35,215.95 362.41,215.64 363.47,215.35 364.53,215.08 365.59,214.83 366.65,214.59 367.70,214.37 368.76,214.16 369.82,213.97 370.88,213.79 371.94,213.62 373.00,213.47 374.06,213.32 375.12,213.19 376.18,213.07 377.24,212.95 378.30,212.85 379.36,212.75 380.42,212.66 381.47,212.57 382.53,212.50 383.59,212.42 384.65,212.36 385.71,212.30 386.77,212.24 387.83,212.19 388.89,212.14 389.95,212.09 391.01,212.05 392.07,212.01 393.13,211.98 394.19,211.95 395.24,211.92 396.30,211.89 397.36,211.86 398.42,211.84 399.48,211.82 400.54,211.80 401.60,211.78 402.66,211.76 403.72,211.75 404.78,211.73" fill="none" stroke="#ff1a1a" stroke-width="0.8"/>
<path d="M277.67,248.80 V242.53 M276.07,248.80 h3.2 M276.07,242.53 h3.2" stroke="#222" stroke-width="0.6" fill="none"/>
<path d="M291.79,244.10 V231.56 M290.19,244.10 h3.2 M290.19,231.56 h3.2" stroke="#222" stroke-width="0.6" fill="none"/>
<path d="M305.92,235.48 V218.23 M304.32,235.48 h3.2 M304.32,218.23 h3.2" stroke="#222" stroke-width="0.6" fill="none"/>
<path d="M320.04,229.60 V223.32 M318.44,229.60 h3.2 M318.44,223.32 h3.2" stroke="#222" stroke-width="0.6" fill="none"/>
<path d="M334.16,225.68 V206.86 M332.56,225.68 h3.2 M332.56,206.86 h3.2" stroke="#222" stroke-width="0.6" fill="none"/>
<path d="M376.53,200.59 V182.56 M374.93,200.59 h3.2 M374.93,182.56 h3.2" stroke="#222" stroke-width="0.6" fill="none"/>
<path d="M390.65,195.10 V176.28 M389.05,195.10 h3.2 M389.05,176.28 h3.2" stroke="#222" stroke-width="0.6" fill="none"/>
<path d="M404.78,197.45 V189.61 M403.18,197.45 h3.2 M403.18,189.61 h3.2" stroke="#222" stroke-width="0.6" fill="none"/>
<path d="M277.67,251.16 V241.75 M276.07,251.16 h3.2 M276.07,241.75 h3.2" stroke="#ff1a1a" stroke-width="0.6" fill="none"/>
<path d="M291.79,252.33 V247.63 M290.19,252.33 h3.2 M290.19,247.63 h3.2" stroke="#ff1a1a" stroke-width="0.6" fill="none"/>
<path d="M305.92,251.16 V241.75 M304.32,251.16 h3.2 M304.32,241.75 h3.2" stroke="#ff1a1a" stroke-width="0.6" fill="none"/>
<path d="M320.04,242.53 V236.26 M318.44,242.53 h3.2 M318.44,236.26 h3.2" stroke="#ff1a1a" stroke-width="0.6" fill="none"/>
<path d="M362.41,222.93 V215.09 M360.81,222.93 h3.2 M360.81,215.09 h3.2" stroke="#ff1a1a" stroke-width="0.6" fill="none"/>
<path d="M376.53,217.05 V195.10 M374.93,217.05 h3.2 M374.93,195.10 h3.2" stroke="#ff1a1a" stroke-width="0.6" fill="none"/>
<path d="M404.78,217.44 V208.04 M403.18,217.44 h3.2 M403.18,208.04 h3.2" stroke="#ff1a1a" stroke-width="0.6" fill="none"/>
<path d="M277.67,257.82 V249.98 M276.07,257.82 h3.2 M276.07,249.98 h3.2" stroke="#222" stroke-width="0.6" fill="none"/>
<path d="M348.29,249.98 V242.14 M346.69,249.98 h3.2 M346.69,242.14 h3.2" stroke="#222" stroke-width="0.6" fill="none"/>
<path d="M362.41,251.16 V235.48 M360.81,251.16 h3.2 M360.81,235.48 h3.2" stroke="#222" stroke-width="0.6" fill="none"/>
<path d="M376.53,246.06 V238.22 M374.93,246.06 h3.2 M374.93,238.22 h3.2" stroke="#222" stroke-width="0.6" fill="none"/>
<path d="M390.65,234.69 V226.85 M389.05,234.69 h3.2 M389.05,226.85 h3.2" stroke="#222" stroke-width="0.6" fill="none"/>
<path d="M404.78,234.30 V223.32 M403.18,234.30 h3.2 M403.18,223.32 h3.2" stroke="#222" stroke-width="0.6" fill="none"/>
<path d="M277.67,249.98 V246.84 M276.07,249.98 h3.2 M276.07,246.84 h3.2" stroke="#ff1a1a" stroke-width="0.6" fill="none"/>
<path d="M390.65,242.53 V233.12 M389.05,242.53 h3.2 M389.05,233.12 h3.2" stroke="#ff1a1a" stroke-width="0.6" fill="none"/>
<path d="M404.78,239.00 V226.46 M403.18,239.00 h3.2 M403.18,226.46 h3.2" stroke="#ff1a1a" stroke-width="0.6" fill="none"/>
<path d="M277.67,250.37 V248.02 M276.07,250.37 h3.2 M276.07,248.02 h3.2" stroke="#1a1acc" stroke-width="0.6" fill="none"/>
<path d="M277.67,246.60 L280.07,250.80 L275.27,250.80 Z" fill="#1a1acc"/>
<path d="M291.79,246.99 L294.19,251.19 L289.39,251.19 Z" fill="#1a1acc"/>
<path d="M305.92,247.38 L308.32,251.58 L303.52,251.58 Z" fill="#1a1acc"/>
<path d="M320.04,247.38 L322.44,251.58 L317.64,251.58 Z" fill="#1a1acc"/>
<path d="M334.16,247.38 L336.56,251.58 L331.76,251.58 Z" fill="#1a1acc"/>
<path d="M348.29,247.38 L350.69,251.58 L345.89,251.58 Z" fill="#1a1acc"/>
<path d="M362.41,247.38 L364.81,251.58 L360.01,251.58 Z" fill="#1a1acc"/>
<path d="M376.53,246.99 L378.93,251.19 L374.13,251.19 Z" fill="#1a1acc"/>
<path d="M390.65,246.99 L393.05,251.19 L388.25,251.19 Z" fill="#1a1acc"/>
<path d="M404.78,246.99 L407.18,251.19 L402.38,251.19 Z" fill="#1a1acc"/>
<path d="M277.67,249.34 L280.07,253.54 L275.27,253.54 Z" fill="#fff" stroke="#1a1acc" stroke-width="1.1"/>
<path d="M291.79,248.95 L294.19,253.15 L289.39,253.15 Z" fill="#fff" stroke="#1a1acc" stroke-width="1.1"/>
<path d="M305.92,248.56 L308.32,252.76 L303.52,252.76 Z" fill="#fff" stroke="#1a1acc" stroke-width="1.1"/>
<path d="M320.04,248.16 L322.44,252.36 L317.64,252.36 Z" fill="#fff" stroke="#1a1acc" stroke-width="1.1"/>
<path d="M334.16,247.77 L336.56,251.97 L331.76,251.97 Z" fill="#fff" stroke="#1a1acc" stroke-width="1.1"/>
<path d="M348.29,247.38 L350.69,251.58 L345.89,251.58 Z" fill="#fff" stroke="#1a1acc" stroke-width="1.1"/>
<path d="M362.41,246.99 L364.81,251.19 L360.01,251.19 Z" fill="#fff" stroke="#1a1acc" stroke-width="1.1"/>
<path d="M376.53,246.99 L378.93,251.19 L374.13,251.19 Z" fill="#fff" stroke="#1a1acc" stroke-width="1.1"/>
<path d="M390.65,246.99 L393.05,251.19 L388.25,251.19 Z" fill="#fff" stroke="#1a1acc" stroke-width="1.1"/>
<path d="M404.78,246.99 L407.18,251.19 L402.38,251.19 Z" fill="#fff" stroke="#1a1acc" stroke-width="1.1"/>
<rect x="275.87" y="252.10" width="3.6" height="3.6" fill="#fff" stroke="#111" stroke-width="1"/>
<rect x="289.99" y="252.49" width="3.6" height="3.6" fill="#fff" stroke="#111" stroke-width="1"/>
<rect x="304.12" y="252.88" width="3.6" height="3.6" fill="#fff" stroke="#111" stroke-width="1"/>
<rect x="318.24" y="245.83" width="3.6" height="3.6" fill="#fff" stroke="#111" stroke-width="1"/>
<rect x="332.36" y="235.24" width="3.6" height="3.6" fill="#fff" stroke="#111" stroke-width="1"/>
<rect x="346.49" y="244.26" width="3.6" height="3.6" fill="#fff" stroke="#111" stroke-width="1"/>
<rect x="360.61" y="241.52" width="3.6" height="3.6" fill="#fff" stroke="#111" stroke-width="1"/>
<rect x="374.73" y="240.34" width="3.6" height="3.6" fill="#fff" stroke="#111" stroke-width="1"/>
<rect x="388.85" y="228.97" width="3.6" height="3.6" fill="#fff" stroke="#111" stroke-width="1"/>
<rect x="402.98" y="227.01" width="3.6" height="3.6" fill="#fff" stroke="#111" stroke-width="1"/>
<rect x="275.47" y="243.47" width="4.4" height="4.4" fill="#000"/>
<rect x="289.59" y="235.63" width="4.4" height="4.4" fill="#000"/>
<rect x="303.72" y="224.65" width="4.4" height="4.4" fill="#000"/>
<rect x="317.84" y="224.26" width="4.4" height="4.4" fill="#000"/>
<rect x="331.96" y="214.07" width="4.4" height="4.4" fill="#000"/>
<rect x="346.09" y="187.80" width="4.4" height="4.4" fill="#000"/>
<rect x="360.21" y="184.67" width="4.4" height="4.4" fill="#000"/>
<rect x="374.33" y="189.37" width="4.4" height="4.4" fill="#000"/>
<rect x="388.45" y="183.49" width="4.4" height="4.4" fill="#000"/>
<rect x="402.58" y="191.33" width="4.4" height="4.4" fill="#000"/>
<circle cx="277.67" cy="248.41" r="1.9" fill="#fff" stroke="#ff1a1a" stroke-width="1"/>
<circle cx="291.79" cy="253.90" r="1.9" fill="#fff" stroke="#ff1a1a" stroke-width="1"/>
<circle cx="305.92" cy="251.94" r="1.9" fill="#fff" stroke="#ff1a1a" stroke-width="1"/>
<circle cx="320.04" cy="251.16" r="1.9" fill="#fff" stroke="#ff1a1a" stroke-width="1"/>
<circle cx="334.16" cy="248.41" r="1.9" fill="#fff" stroke="#ff1a1a" stroke-width="1"/>
<circle cx="348.29" cy="244.49" r="1.9" fill="#fff" stroke="#ff1a1a" stroke-width="1"/>
<circle cx="362.41" cy="248.80" r="1.9" fill="#fff" stroke="#ff1a1a" stroke-width="1"/>
<circle cx="376.53" cy="242.14" r="1.9" fill="#fff" stroke="#ff1a1a" stroke-width="1"/>
<circle cx="390.65" cy="237.83" r="1.9" fill="#fff" stroke="#ff1a1a" stroke-width="1"/>
<circle cx="404.78" cy="232.73" r="1.9" fill="#fff" stroke="#ff1a1a" stroke-width="1"/>
<circle cx="277.67" cy="246.45" r="2.2" fill="#ff1a1a"/>
<circle cx="291.79" cy="249.98" r="2.2" fill="#ff1a1a"/>
<circle cx="305.92" cy="246.45" r="2.2" fill="#ff1a1a"/>
<circle cx="320.04" cy="239.40" r="2.2" fill="#ff1a1a"/>
<circle cx="334.16" cy="231.95" r="2.2" fill="#ff1a1a"/>
<circle cx="348.29" cy="218.62" r="2.2" fill="#ff1a1a"/>
<circle cx="362.41" cy="219.01" r="2.2" fill="#ff1a1a"/>
<circle cx="376.53" cy="206.08" r="2.2" fill="#ff1a1a"/>
<circle cx="390.65" cy="213.52" r="2.2" fill="#ff1a1a"/>
<circle cx="404.78" cy="212.74" r="2.2" fill="#ff1a1a"/>
<line x1="415.3" y1="181.4" x2="425.8" y2="181.4" stroke="#ff1a1a" stroke-width="0.9"/>
<circle cx="420.7" cy="181.4" r="2.2" fill="#ff1a1a"/>
<text transform="translate(431.80,184.35) scale(1,1.05)" font-family='"Liberation Sans", sans-serif' font-size="8" font-weight="normal" fill="#222" text-anchor="start"  stroke="#222" stroke-width="0.08">SY5Y-VH20</text>
<line x1="415.3" y1="194.8" x2="425.8" y2="194.8" stroke="#ff1a1a" stroke-width="0.9"/>
<circle cx="420.7" cy="194.8" r="1.9" fill="#fff" stroke="#ff1a1a" stroke-width="1"/>
<text transform="translate(431.80,197.75) scale(1,1.05)" font-family='"Liberation Sans", sans-serif' font-size="8" font-weight="normal" fill="#222" text-anchor="start"  stroke="#222" stroke-width="0.08">SY5Y-Iso</text>
<line x1="415.3" y1="208.2" x2="425.8" y2="208.2" stroke="#000" stroke-width="0.9"/>
<rect x="418.5" y="206.0" width="4.4" height="4.4" fill="#000"/>
<text transform="translate(431.80,211.15) scale(1,1.05)" font-family='"Liberation Sans", sans-serif' font-size="8" font-weight="normal" fill="#222" text-anchor="start"  stroke="#222" stroke-width="0.08">IMR-VH20</text>
<line x1="415.3" y1="221.6" x2="425.8" y2="221.6" stroke="#000" stroke-width="0.9"/>
<rect x="418.9" y="219.79999999999998" width="3.6" height="3.6" fill="#fff" stroke="#000" stroke-width="1"/>
<text transform="translate(431.80,224.55) scale(1,1.05)" font-family='"Liberation Sans", sans-serif' font-size="8" font-weight="normal" fill="#222" text-anchor="start"  stroke="#222" stroke-width="0.08">IMR-Iso</text>
<line x1="415.3" y1="235.3" x2="425.8" y2="235.3" stroke="#1a1acc" stroke-width="0.9"/>
<path d="M420.7,232.70000000000002 L423.09999999999997,236.9 L418.3,236.9 Z" fill="#1a1acc"/>
<text transform="translate(431.80,238.25) scale(1,1.05)" font-family='"Liberation Sans", sans-serif' font-size="8" font-weight="normal" fill="#222" text-anchor="start"  stroke="#222" stroke-width="0.08">SK-N-AS-VH20</text>
<line x1="415.3" y1="248.4" x2="425.8" y2="248.4" stroke="#1a1acc" stroke-width="0.9"/>
<path d="M420.7,245.8 L423.09999999999997,250.0 L418.3,250.0 Z" fill="#fff" stroke="#1a1acc" stroke-width="0.8"/>
<text transform="translate(431.80,251.35) scale(1,1.05)" font-family='"Liberation Sans", sans-serif' font-size="8" font-weight="normal" fill="#222" text-anchor="start"  stroke="#222" stroke-width="0.08">SK-N-AS-Iso</text>
</svg>
</body></html>
